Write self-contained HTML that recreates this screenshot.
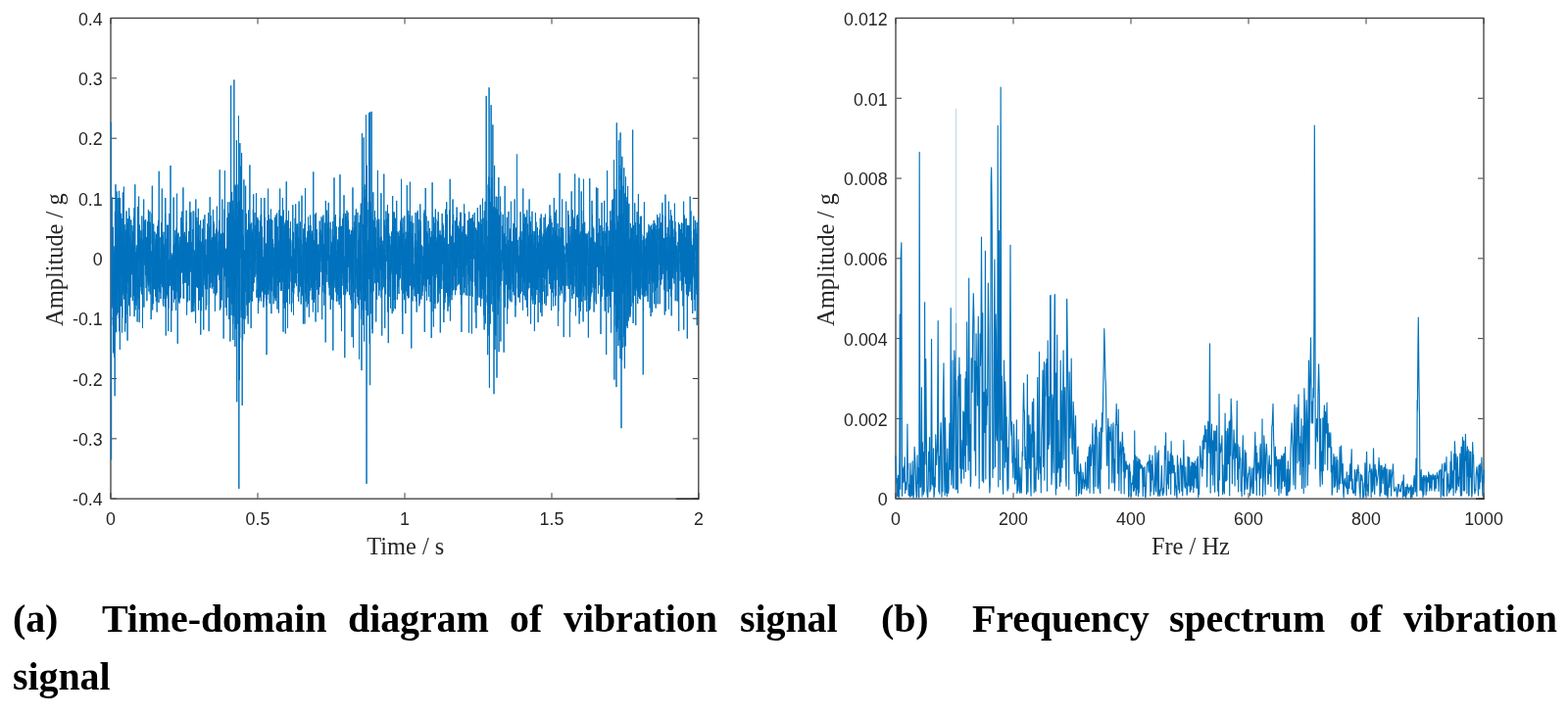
<!DOCTYPE html>
<html lang="en">
<head>
<meta charset="utf-8">
<title>Vibration signal</title>
<style>
html,body{margin:0;padding:0;background:#fff;}
body{width:1600px;height:732px;position:relative;overflow:hidden;font-family:"Liberation Serif",serif;}
svg{position:absolute;left:0;top:0;display:block;}
.tk{font-family:"Liberation Sans",sans-serif;font-size:19px;fill:#262626;}
.lb{font-family:"Liberation Serif",serif;font-size:24.4px;fill:#262626;}
.w{position:absolute;font-family:"Liberation Serif",serif;font-weight:bold;font-size:40px;line-height:40px;letter-spacing:-0.1px;color:#000;white-space:nowrap;}
</style>
</head>
<body>
<svg width="1600" height="732" viewBox="0 0 1600 732">
<rect x="113" y="18.5" width="599.8" height="490.7" fill="none" stroke="#3c3c3c" stroke-width="1.3"/>
<line x1="113" y1="508.55" x2="113" y2="503.2" stroke="#3c3c3c" stroke-width="1.0"/>
<line x1="113" y1="19.15" x2="113" y2="24.5" stroke="#3c3c3c" stroke-width="1.0"/>
<text transform="translate(113,536.2) scale(0.94,1)" text-anchor="middle" class="tk">0</text>
<line x1="263" y1="508.55" x2="263" y2="503.2" stroke="#3c3c3c" stroke-width="1.0"/>
<line x1="263" y1="19.15" x2="263" y2="24.5" stroke="#3c3c3c" stroke-width="1.0"/>
<text transform="translate(263,536.2) scale(0.94,1)" text-anchor="middle" class="tk">0.5</text>
<line x1="413" y1="508.55" x2="413" y2="503.2" stroke="#3c3c3c" stroke-width="1.0"/>
<line x1="413" y1="19.15" x2="413" y2="24.5" stroke="#3c3c3c" stroke-width="1.0"/>
<text transform="translate(413,536.2) scale(0.94,1)" text-anchor="middle" class="tk">1</text>
<line x1="563" y1="508.55" x2="563" y2="503.2" stroke="#3c3c3c" stroke-width="1.0"/>
<line x1="563" y1="19.15" x2="563" y2="24.5" stroke="#3c3c3c" stroke-width="1.0"/>
<text transform="translate(563,536.2) scale(0.94,1)" text-anchor="middle" class="tk">1.5</text>
<line x1="713" y1="508.55" x2="713" y2="503.2" stroke="#3c3c3c" stroke-width="1.0"/>
<line x1="713" y1="19.15" x2="713" y2="24.5" stroke="#3c3c3c" stroke-width="1.0"/>
<text transform="translate(713,536.2) scale(0.94,1)" text-anchor="middle" class="tk">2</text>
<line x1="113.65" y1="18.5" x2="119" y2="18.5" stroke="#3c3c3c" stroke-width="1.0"/>
<line x1="712.15" y1="18.5" x2="706.8" y2="18.5" stroke="#3c3c3c" stroke-width="1.0"/>
<text transform="translate(104.7,25.7) scale(0.94,1)" text-anchor="end" class="tk">0.4</text>
<line x1="113.65" y1="79.8375" x2="119" y2="79.8375" stroke="#3c3c3c" stroke-width="1.0"/>
<line x1="712.15" y1="79.8375" x2="706.8" y2="79.8375" stroke="#3c3c3c" stroke-width="1.0"/>
<text transform="translate(104.7,87.0) scale(0.94,1)" text-anchor="end" class="tk">0.3</text>
<line x1="113.65" y1="141.175" x2="119" y2="141.175" stroke="#3c3c3c" stroke-width="1.0"/>
<line x1="712.15" y1="141.175" x2="706.8" y2="141.175" stroke="#3c3c3c" stroke-width="1.0"/>
<text transform="translate(104.7,148.4) scale(0.94,1)" text-anchor="end" class="tk">0.2</text>
<line x1="113.65" y1="202.5125" x2="119" y2="202.5125" stroke="#3c3c3c" stroke-width="1.0"/>
<line x1="712.15" y1="202.5125" x2="706.8" y2="202.5125" stroke="#3c3c3c" stroke-width="1.0"/>
<text transform="translate(104.7,209.7) scale(0.94,1)" text-anchor="end" class="tk">0.1</text>
<line x1="113.65" y1="263.85" x2="119" y2="263.85" stroke="#3c3c3c" stroke-width="1.0"/>
<line x1="712.15" y1="263.85" x2="706.8" y2="263.85" stroke="#3c3c3c" stroke-width="1.0"/>
<text transform="translate(104.7,271.1) scale(0.94,1)" text-anchor="end" class="tk">0</text>
<line x1="113.65" y1="325.1875" x2="119" y2="325.1875" stroke="#3c3c3c" stroke-width="1.0"/>
<line x1="712.15" y1="325.1875" x2="706.8" y2="325.1875" stroke="#3c3c3c" stroke-width="1.0"/>
<text transform="translate(104.7,332.4) scale(0.94,1)" text-anchor="end" class="tk">-0.1</text>
<line x1="113.65" y1="386.525" x2="119" y2="386.525" stroke="#3c3c3c" stroke-width="1.0"/>
<line x1="712.15" y1="386.525" x2="706.8" y2="386.525" stroke="#3c3c3c" stroke-width="1.0"/>
<text transform="translate(104.7,393.7) scale(0.94,1)" text-anchor="end" class="tk">-0.2</text>
<line x1="113.65" y1="447.8625" x2="119" y2="447.8625" stroke="#3c3c3c" stroke-width="1.0"/>
<line x1="712.15" y1="447.8625" x2="706.8" y2="447.8625" stroke="#3c3c3c" stroke-width="1.0"/>
<text transform="translate(104.7,455.1) scale(0.94,1)" text-anchor="end" class="tk">-0.3</text>
<line x1="113.65" y1="509.2" x2="119" y2="509.2" stroke="#3c3c3c" stroke-width="1.0"/>
<line x1="712.15" y1="509.2" x2="706.8" y2="509.2" stroke="#3c3c3c" stroke-width="1.0"/>
<text transform="translate(104.7,516.4) scale(0.94,1)" text-anchor="end" class="tk">-0.4</text>
<line x1="689.8" y1="509.4" x2="713.4" y2="509.4" stroke="#1a1a1a" stroke-width="1.3"/>
<text x="413.8" y="565.8" text-anchor="middle" class="lb">Time / s</text>
<text transform="translate(64.2,265.15000000000003) rotate(-90)" text-anchor="middle" class="lb">Amplitude / g</text>
<rect x="914" y="18.5" width="600" height="490.7" fill="none" stroke="#3c3c3c" stroke-width="1.3"/>
<line x1="914" y1="508.55" x2="914" y2="503.2" stroke="#3c3c3c" stroke-width="1.0"/>
<line x1="914" y1="19.15" x2="914" y2="24.5" stroke="#3c3c3c" stroke-width="1.0"/>
<text transform="translate(914,536.2) scale(0.94,1)" text-anchor="middle" class="tk">0</text>
<line x1="1034" y1="508.55" x2="1034" y2="503.2" stroke="#3c3c3c" stroke-width="1.0"/>
<line x1="1034" y1="19.15" x2="1034" y2="24.5" stroke="#3c3c3c" stroke-width="1.0"/>
<text transform="translate(1034,536.2) scale(0.94,1)" text-anchor="middle" class="tk">200</text>
<line x1="1154" y1="508.55" x2="1154" y2="503.2" stroke="#3c3c3c" stroke-width="1.0"/>
<line x1="1154" y1="19.15" x2="1154" y2="24.5" stroke="#3c3c3c" stroke-width="1.0"/>
<text transform="translate(1154,536.2) scale(0.94,1)" text-anchor="middle" class="tk">400</text>
<line x1="1274" y1="508.55" x2="1274" y2="503.2" stroke="#3c3c3c" stroke-width="1.0"/>
<line x1="1274" y1="19.15" x2="1274" y2="24.5" stroke="#3c3c3c" stroke-width="1.0"/>
<text transform="translate(1274,536.2) scale(0.94,1)" text-anchor="middle" class="tk">600</text>
<line x1="1394" y1="508.55" x2="1394" y2="503.2" stroke="#3c3c3c" stroke-width="1.0"/>
<line x1="1394" y1="19.15" x2="1394" y2="24.5" stroke="#3c3c3c" stroke-width="1.0"/>
<text transform="translate(1394,536.2) scale(0.94,1)" text-anchor="middle" class="tk">800</text>
<line x1="1514" y1="508.55" x2="1514" y2="503.2" stroke="#3c3c3c" stroke-width="1.0"/>
<line x1="1514" y1="19.15" x2="1514" y2="24.5" stroke="#3c3c3c" stroke-width="1.0"/>
<text transform="translate(1514,536.2) scale(0.94,1)" text-anchor="middle" class="tk">1000</text>
<line x1="914.65" y1="18.5" x2="920" y2="18.5" stroke="#3c3c3c" stroke-width="1.0"/>
<line x1="1513.35" y1="18.5" x2="1508" y2="18.5" stroke="#3c3c3c" stroke-width="1.0"/>
<text transform="translate(905.7,25.7) scale(0.94,1)" text-anchor="end" class="tk">0.012</text>
<line x1="914.65" y1="100.28333333333333" x2="920" y2="100.28333333333333" stroke="#3c3c3c" stroke-width="1.0"/>
<line x1="1513.35" y1="100.28333333333333" x2="1508" y2="100.28333333333333" stroke="#3c3c3c" stroke-width="1.0"/>
<text transform="translate(905.7,107.5) scale(0.94,1)" text-anchor="end" class="tk">0.01</text>
<line x1="914.65" y1="182.06666666666666" x2="920" y2="182.06666666666666" stroke="#3c3c3c" stroke-width="1.0"/>
<line x1="1513.35" y1="182.06666666666666" x2="1508" y2="182.06666666666666" stroke="#3c3c3c" stroke-width="1.0"/>
<text transform="translate(905.7,189.3) scale(0.94,1)" text-anchor="end" class="tk">0.008</text>
<line x1="914.65" y1="263.85" x2="920" y2="263.85" stroke="#3c3c3c" stroke-width="1.0"/>
<line x1="1513.35" y1="263.85" x2="1508" y2="263.85" stroke="#3c3c3c" stroke-width="1.0"/>
<text transform="translate(905.7,271.1) scale(0.94,1)" text-anchor="end" class="tk">0.006</text>
<line x1="914.65" y1="345.6333333333333" x2="920" y2="345.6333333333333" stroke="#3c3c3c" stroke-width="1.0"/>
<line x1="1513.35" y1="345.6333333333333" x2="1508" y2="345.6333333333333" stroke="#3c3c3c" stroke-width="1.0"/>
<text transform="translate(905.7,352.8) scale(0.94,1)" text-anchor="end" class="tk">0.004</text>
<line x1="914.65" y1="427.41666666666663" x2="920" y2="427.41666666666663" stroke="#3c3c3c" stroke-width="1.0"/>
<line x1="1513.35" y1="427.41666666666663" x2="1508" y2="427.41666666666663" stroke="#3c3c3c" stroke-width="1.0"/>
<text transform="translate(905.7,434.6) scale(0.94,1)" text-anchor="end" class="tk">0.002</text>
<line x1="914.65" y1="509.2" x2="920" y2="509.2" stroke="#3c3c3c" stroke-width="1.0"/>
<line x1="1513.35" y1="509.2" x2="1508" y2="509.2" stroke="#3c3c3c" stroke-width="1.0"/>
<text transform="translate(905.7,516.4) scale(0.94,1)" text-anchor="end" class="tk">0</text>
<line x1="1506" y1="509.4" x2="1514.6" y2="509.4" stroke="#1a1a1a" stroke-width="1.3"/>
<text x="1214.9" y="565.8" text-anchor="middle" class="lb">Fre / Hz</text>
<text transform="translate(850.7,265.15000000000003) rotate(-90)" text-anchor="middle" class="lb">Amplitude / g</text>
<polyline points="113.50,124.6 113.62,469.3 113.73,233.2 113.85,309.5 113.96,287.1 114.08,314.6 114.19,261.1 114.31,201.5 114.42,289.0 114.54,295.5 114.65,241.1 114.77,247.3 114.88,259.0 115.00,311.3 115.11,265.3 115.23,231.7 115.34,332.2 115.46,287.1 115.57,360.3 115.69,329.2 115.80,357.1 115.92,275.7 116.04,327.9 116.15,251.4 116.27,256.7 116.38,273.3 116.50,364.7 116.61,290.9 116.73,266.3 116.84,258.7 116.96,340.3 117.07,287.7 117.19,404.3 117.30,304.1 117.42,215.9 117.53,303.9 117.65,265.5 117.76,224.1 117.88,292.7 117.99,188.3 118.11,258.9 118.22,261.0 118.34,323.9 118.46,260.5 118.57,203.6 118.69,339.2 118.80,225.9 118.92,258.6 119.03,294.9 119.15,195.5 119.26,230.5 119.38,321.5 119.49,260.6 119.61,238.8 119.72,272.9 119.84,234.3 119.95,267.0 120.07,235.1 120.18,202.0 120.30,295.7 120.41,255.2 120.53,285.6 120.64,258.4 120.76,319.3 120.87,290.8 120.99,273.0 121.11,226.0 121.22,215.8 121.34,324.8 121.45,194.9 121.57,236.9 121.68,338.2 121.80,284.9 121.91,268.3 122.03,212.1 122.14,235.5 122.26,278.6 122.37,356.8 122.49,275.0 122.60,202.1 122.72,282.9 122.83,277.3 122.95,249.7 123.06,269.2 123.18,272.5 123.29,312.6 123.41,264.4 123.53,283.2 123.64,217.9 123.76,238.2 123.87,264.9 123.99,237.7 124.10,278.4 124.22,223.0 124.33,264.1 124.45,339.6 124.56,318.4 124.68,250.6 124.79,324.5 124.91,324.5 125.02,276.5 125.14,301.2 125.25,257.7 125.37,196.5 125.48,298.1 125.60,289.4 125.71,256.2 125.83,245.6 125.95,271.0 126.06,272.2 126.18,238.1 126.29,244.9 126.41,190.6 126.52,267.0 126.64,262.6 126.75,305.6 126.87,254.5 126.98,297.6 127.10,229.2 127.21,257.0 127.33,260.7 127.44,286.8 127.56,268.4 127.67,338.6 127.79,307.2 127.90,251.2 128.02,329.0 128.13,234.6 128.25,329.9 128.37,237.9 128.48,295.6 128.60,237.3 128.71,259.4 128.83,321.0 128.94,221.8 129.06,215.5 129.17,266.3 129.29,273.9 129.40,269.7 129.52,299.3 129.63,227.6 129.75,283.5 129.86,265.7 129.98,292.3 130.09,347.7 130.21,309.4 130.32,223.2 130.44,269.3 130.55,232.8 130.67,263.4 130.79,288.2 130.90,275.3 131.02,283.4 131.13,263.6 131.25,276.8 131.36,274.2 131.48,311.3 131.59,291.5 131.71,212.4 131.82,286.7 131.94,299.7 132.05,253.5 132.17,220.7 132.28,312.8 132.40,270.8 132.51,285.0 132.63,322.6 132.74,241.6 132.86,264.6 132.97,261.7 133.09,288.6 133.20,250.3 133.32,281.5 133.44,268.5 133.55,300.0 133.67,303.4 133.78,224.5 133.90,280.2 134.01,255.3 134.13,264.9 134.24,278.0 134.36,280.1 134.47,245.6 134.59,273.4 134.70,268.7 134.82,263.2 134.93,230.1 135.05,244.4 135.16,252.9 135.28,281.5 135.39,307.0 135.51,236.9 135.62,236.5 135.74,268.2 135.86,248.6 135.97,241.9 136.09,240.6 136.20,238.1 136.32,277.8 136.43,221.7 136.55,301.9 136.66,240.0 136.78,250.2 136.89,239.8 137.01,212.1 137.12,323.1 137.24,298.4 137.35,311.2 137.47,241.6 137.58,294.3 137.70,264.2 137.81,188.3 137.93,311.2 138.04,316.4 138.16,256.9 138.28,262.7 138.39,271.1 138.51,262.8 138.62,289.2 138.74,308.4 138.85,268.7 138.97,292.3 139.08,312.0 139.20,250.4 139.31,265.6 139.43,253.1 139.54,292.6 139.66,283.0 139.77,292.8 139.89,289.5 140.00,258.7 140.12,328.5 140.23,254.5 140.35,255.0 140.46,210.9 140.58,303.8 140.70,240.7 140.81,266.4 140.93,264.3 141.04,305.3 141.16,277.0 141.27,244.6 141.39,266.2 141.50,261.8 141.62,200.6 141.73,234.1 141.85,264.5 141.96,316.0 142.08,283.4 142.19,329.1 142.31,315.4 142.42,278.8 142.54,229.7 142.65,262.6 142.77,296.8 142.88,290.3 143.00,235.0 143.12,259.8 143.23,262.6 143.35,265.3 143.46,262.9 143.58,243.4 143.69,249.8 143.81,258.4 143.92,292.9 144.04,250.9 144.15,282.9 144.27,236.2 144.38,299.2 144.50,267.7 144.61,264.1 144.73,300.6 144.84,220.5 144.96,227.1 145.07,276.7 145.19,244.5 145.30,254.3 145.42,317.2 145.53,335.1 145.65,265.5 145.77,261.8 145.88,293.5 146.00,271.3 146.11,268.8 146.23,234.1 146.34,255.5 146.46,264.0 146.57,225.7 146.69,203.5 146.80,274.5 146.92,313.7 147.03,224.7 147.15,239.8 147.26,241.0 147.38,247.2 147.49,261.1 147.61,258.5 147.72,270.7 147.84,269.4 147.95,262.5 148.07,226.3 148.19,250.0 148.30,265.4 148.42,279.7 148.53,281.2 148.65,224.1 148.76,251.3 148.88,262.2 148.99,273.3 149.11,294.1 149.22,265.7 149.34,242.2 149.45,274.5 149.57,270.0 149.68,269.9 149.80,261.1 149.91,307.2 150.03,270.3 150.14,287.1 150.26,242.0 150.37,284.8 150.49,249.6 150.61,226.2 150.72,272.4 150.84,280.2 150.95,259.1 151.07,263.9 151.18,290.8 151.30,252.5 151.41,214.1 151.53,270.9 151.64,269.4 151.76,292.2 151.87,256.0 151.99,297.7 152.10,293.9 152.22,232.3 152.33,288.4 152.45,237.2 152.56,226.3 152.68,257.5 152.79,250.2 152.91,215.8 153.03,269.2 153.14,279.9 153.26,300.5 153.37,262.8 153.49,227.4 153.60,240.2 153.72,289.3 153.83,287.0 153.95,277.5 154.06,256.7 154.18,326.1 154.29,258.6 154.41,256.6 154.52,271.9 154.64,264.9 154.75,258.8 154.87,266.1 154.98,251.5 155.10,217.9 155.21,249.3 155.33,189.7 155.45,309.4 155.56,254.3 155.68,316.5 155.79,301.9 155.91,242.8 156.02,246.5 156.14,267.9 156.25,310.1 156.37,273.9 156.48,282.2 156.60,248.2 156.71,228.5 156.83,258.5 156.94,284.9 157.06,295.5 157.17,265.4 157.29,268.6 157.40,295.0 157.52,261.0 157.63,294.9 157.75,236.5 157.86,237.8 157.98,237.2 158.10,276.7 158.21,251.2 158.33,267.4 158.44,274.4 158.56,273.0 158.67,298.9 158.79,302.8 158.90,244.3 159.02,269.0 159.13,258.5 159.25,239.3 159.36,307.6 159.48,285.0 159.59,259.5 159.71,254.2 159.82,274.0 159.94,238.6 160.05,258.7 160.17,318.6 160.28,289.0 160.40,244.1 160.52,252.5 160.63,307.6 160.75,230.8 160.86,249.2 160.98,230.9 161.09,274.2 161.21,271.8 161.32,294.3 161.44,228.0 161.55,268.6 161.67,224.9 161.78,281.3 161.90,259.8 162.01,309.0 162.13,274.2 162.24,174.8 162.36,297.6 162.47,237.5 162.59,255.6 162.70,292.0 162.82,277.4 162.94,276.2 163.05,265.2 163.17,278.3 163.28,286.2 163.40,272.1 163.51,291.6 163.63,298.7 163.74,265.2 163.86,242.2 163.97,305.1 164.09,263.8 164.20,281.4 164.32,290.2 164.43,242.9 164.55,277.8 164.66,227.1 164.78,284.9 164.89,254.4 165.01,270.0 165.12,284.2 165.24,249.4 165.36,192.6 165.47,249.0 165.59,265.1 165.70,293.2 165.82,266.6 165.93,262.6 166.05,240.3 166.16,288.3 166.28,264.9 166.39,310.3 166.51,247.9 166.62,293.0 166.74,312.6 166.85,265.4 166.97,236.7 167.08,305.0 167.20,293.2 167.31,283.9 167.43,294.3 167.54,254.5 167.66,285.6 167.78,283.3 167.89,249.5 168.01,284.2 168.12,253.2 168.24,290.1 168.35,296.6 168.47,313.4 168.58,218.2 168.70,272.5 168.81,202.0 168.93,264.7 169.04,259.9 169.16,262.6 169.27,342.6 169.39,291.9 169.50,305.9 169.62,291.2 169.73,299.9 169.85,245.5 169.96,243.7 170.08,289.8 170.19,301.4 170.31,273.4 170.43,229.7 170.54,300.4 170.66,250.9 170.77,292.9 170.89,238.3 171.00,292.9 171.12,271.6 171.23,304.5 171.35,290.2 171.46,229.8 171.58,243.7 171.69,338.1 171.81,287.3 171.92,315.0 172.04,274.5 172.15,264.7 172.27,266.1 172.38,266.4 172.50,294.1 172.61,265.6 172.73,264.9 172.85,232.2 172.96,218.0 173.08,267.5 173.19,284.5 173.31,265.6 173.42,280.2 173.54,283.9 173.65,265.4 173.77,292.0 173.88,249.0 174.00,169.0 174.11,257.7 174.23,268.8 174.34,283.5 174.46,289.4 174.57,270.3 174.69,339.0 174.80,258.1 174.92,264.0 175.03,300.6 175.15,262.2 175.27,300.1 175.38,280.5 175.50,271.8 175.61,317.2 175.73,261.6 175.84,260.1 175.96,268.1 176.07,275.3 176.19,273.9 176.30,290.2 176.42,271.1 176.53,278.8 176.65,261.6 176.76,296.3 176.88,258.1 176.99,260.3 177.11,201.5 177.22,275.7 177.34,250.3 177.45,308.8 177.57,252.6 177.69,257.9 177.80,256.9 177.92,254.4 178.03,281.5 178.15,270.9 178.26,248.2 178.38,253.3 178.49,258.8 178.61,304.7 178.72,250.7 178.84,235.2 178.95,239.1 179.07,258.1 179.18,305.9 179.30,240.7 179.41,267.8 179.53,316.8 179.64,254.6 179.76,304.1 179.87,298.8 179.99,281.0 180.11,232.6 180.22,273.9 180.34,257.2 180.45,221.0 180.57,197.7 180.68,266.6 180.80,270.4 180.91,297.9 181.03,282.6 181.14,253.4 181.26,350.8 181.37,261.1 181.49,239.4 181.60,284.7 181.72,265.4 181.83,245.9 181.95,249.5 182.06,237.6 182.18,254.1 182.29,272.2 182.41,255.0 182.52,290.9 182.64,308.1 182.76,249.6 182.87,265.3 182.99,256.3 183.10,309.7 183.22,273.7 183.33,280.0 183.45,287.2 183.56,305.2 183.68,272.9 183.79,241.8 183.91,254.5 184.02,280.1 184.14,264.3 184.25,245.3 184.37,304.2 184.48,267.2 184.60,250.5 184.71,247.1 184.83,222.1 184.94,236.0 185.06,256.2 185.18,256.4 185.29,244.5 185.41,278.4 185.52,264.9 185.64,241.6 185.75,215.8 185.87,268.1 185.98,265.2 186.10,259.0 186.21,230.9 186.33,264.7 186.44,227.8 186.56,289.9 186.67,268.9 186.79,269.2 186.90,191.4 187.02,238.2 187.13,304.6 187.25,288.5 187.36,255.6 187.48,281.6 187.60,304.9 187.71,238.4 187.83,251.7 187.94,251.7 188.06,276.7 188.17,238.6 188.29,270.3 188.40,236.9 188.52,288.5 188.63,286.9 188.75,258.8 188.86,282.8 188.98,247.3 189.09,257.5 189.21,288.8 189.32,262.1 189.44,273.3 189.55,241.4 189.67,280.9 189.78,275.7 189.90,234.1 190.02,233.2 190.13,214.8 190.25,262.3 190.36,258.5 190.48,226.2 190.59,321.6 190.71,290.2 190.82,261.0 190.94,252.8 191.05,286.2 191.17,308.3 191.28,302.6 191.40,247.5 191.51,284.3 191.63,267.7 191.74,258.6 191.86,248.7 191.97,272.9 192.09,251.6 192.20,287.9 192.32,273.6 192.44,291.5 192.55,236.1 192.67,264.6 192.78,283.8 192.90,273.4 193.01,269.8 193.13,246.7 193.24,306.9 193.36,291.8 193.47,274.1 193.59,217.4 193.70,240.4 193.82,205.8 193.93,246.4 194.05,221.0 194.16,270.2 194.28,273.7 194.39,234.1 194.51,251.7 194.62,247.4 194.74,277.6 194.85,216.6 194.97,221.9 195.09,250.0 195.20,247.1 195.32,318.6 195.43,248.2 195.55,269.1 195.66,253.2 195.78,247.1 195.89,273.1 196.01,309.5 196.12,254.8 196.24,283.9 196.35,272.8 196.47,280.2 196.58,273.1 196.70,318.3 196.81,234.0 196.93,257.6 197.04,236.6 197.16,215.3 197.27,263.3 197.39,312.5 197.51,288.0 197.62,296.4 197.74,277.4 197.85,261.9 197.97,317.9 198.08,255.4 198.20,304.6 198.31,256.6 198.43,266.8 198.54,272.3 198.66,265.8 198.77,278.4 198.89,280.4 199.00,309.3 199.12,264.6 199.23,218.6 199.35,215.5 199.46,231.4 199.58,329.7 199.69,282.1 199.81,203.5 199.93,265.4 200.04,265.7 200.16,271.7 200.27,261.6 200.39,275.6 200.50,266.1 200.62,293.1 200.73,273.9 200.85,221.9 200.96,265.7 201.08,270.3 201.19,250.8 201.31,246.5 201.42,293.9 201.54,269.4 201.65,241.3 201.77,257.2 201.88,260.9 202.00,225.7 202.11,282.1 202.23,261.8 202.35,212.9 202.46,227.3 202.58,316.5 202.69,281.9 202.81,278.1 202.92,247.6 203.04,249.0 203.15,229.6 203.27,306.3 203.38,245.4 203.50,271.8 203.61,281.8 203.73,250.6 203.84,288.7 203.96,307.0 204.07,273.8 204.19,304.3 204.30,281.4 204.42,254.7 204.53,256.2 204.65,224.9 204.77,341.7 204.88,305.2 205.00,284.3 205.11,288.7 205.23,296.7 205.34,253.2 205.46,281.3 205.57,317.2 205.69,246.8 205.80,266.9 205.92,255.1 206.03,261.3 206.15,248.4 206.26,262.9 206.38,233.5 206.49,253.4 206.61,254.2 206.72,253.8 206.84,303.2 206.95,268.3 207.07,270.8 207.18,258.8 207.30,300.5 207.42,223.8 207.53,261.3 207.65,296.5 207.76,336.6 207.88,271.4 207.99,266.3 208.11,283.2 208.22,261.6 208.34,281.2 208.45,250.3 208.57,283.4 208.68,264.9 208.80,239.8 208.91,219.3 209.03,291.0 209.14,276.4 209.26,286.5 209.37,244.6 209.49,294.8 209.60,276.9 209.72,264.6 209.84,290.3 209.95,289.7 210.07,276.7 210.18,316.4 210.30,302.9 210.41,275.0 210.53,260.2 210.64,268.9 210.76,311.7 210.87,276.4 210.99,244.3 211.10,250.2 211.22,266.0 211.33,287.8 211.45,248.4 211.56,279.5 211.68,295.4 211.79,285.5 211.91,228.3 212.02,258.4 212.14,235.4 212.26,276.8 212.37,240.8 212.49,280.1 212.60,268.1 212.72,217.1 212.83,245.0 212.95,277.4 213.06,266.1 213.18,338.1 213.29,234.2 213.41,277.1 213.52,310.8 213.64,271.4 213.75,263.5 213.87,261.2 213.98,231.5 214.10,256.1 214.21,201.2 214.33,293.6 214.44,242.6 214.56,228.4 214.68,244.9 214.79,257.6 214.91,260.1 215.02,220.0 215.14,288.9 215.25,266.8 215.37,252.6 215.48,245.6 215.60,275.7 215.71,256.3 215.83,271.4 215.94,260.9 216.06,267.4 216.17,294.7 216.29,264.4 216.40,242.3 216.52,289.9 216.63,270.4 216.75,247.5 216.86,292.7 216.98,259.4 217.10,292.5 217.21,236.0 217.33,224.7 217.44,214.2 217.56,269.8 217.67,245.7 217.79,260.9 217.90,261.3 218.02,225.9 218.13,299.5 218.25,238.0 218.36,265.2 218.48,229.3 218.59,259.3 218.71,282.0 218.82,257.1 218.94,245.8 219.05,263.0 219.17,251.9 219.28,277.9 219.40,317.8 219.52,241.8 219.63,246.7 219.75,260.2 219.86,262.2 219.98,238.4 220.09,276.2 220.21,282.9 220.32,268.9 220.44,234.7 220.55,301.3 220.67,234.6 220.78,281.1 220.90,293.6 221.01,232.9 221.13,266.5 221.24,298.9 221.36,210.6 221.47,241.0 221.59,234.6 221.70,275.4 221.82,253.9 221.93,246.3 222.05,281.2 222.17,255.1 222.28,264.7 222.40,278.3 222.51,277.1 222.63,262.2 222.74,263.1 222.86,279.1 222.97,275.3 223.09,236.5 223.20,258.6 223.32,242.1 223.43,234.4 223.55,249.4 223.66,224.7 223.78,286.1 223.89,244.0 224.01,272.4 224.12,218.3 224.24,173.3 224.35,316.6 224.47,290.0 224.59,247.5 224.70,244.5 224.82,245.8 224.93,265.8 225.05,252.7 225.16,247.8 225.28,266.0 225.39,238.6 225.51,314.3 225.62,248.3 225.74,291.8 225.85,240.3 225.97,270.0 226.08,287.9 226.20,254.7 226.31,288.5 226.43,288.5 226.54,306.3 226.66,264.6 226.77,203.5 226.89,238.7 227.01,267.7 227.12,238.0 227.24,263.4 227.35,266.4 227.47,249.7 227.58,237.7 227.70,273.1 227.81,270.5 227.93,268.2 228.04,261.8 228.16,345.6 228.27,238.4 228.39,274.8 228.50,252.4 228.62,286.4 228.73,254.9 228.85,254.1 228.96,275.4 229.08,213.5 229.19,254.6 229.31,219.5 229.43,174.2 229.54,282.1 229.66,274.4 229.77,252.9 229.89,262.3 230.00,262.6 230.12,271.8 230.23,314.1 230.35,270.1 230.46,308.8 230.58,254.4 230.69,284.2 230.81,283.9 230.92,270.0 231.04,256.9 231.15,304.4 231.27,313.5 231.38,294.2 231.50,322.2 231.61,291.6 231.73,222.3 231.85,294.3 231.96,246.7 232.08,303.8 232.19,255.9 232.31,273.2 232.42,265.6 232.54,248.5 232.65,217.8 232.77,206.3 232.88,260.4 233.00,293.3 233.11,247.7 233.23,271.4 233.34,240.6 233.46,265.2 233.57,217.8 233.69,326.1 233.80,273.2 233.92,238.3 234.03,275.1 234.15,289.5 234.26,272.5 234.38,309.2 234.50,260.3 234.61,206.3 234.73,228.8 234.84,348.6 234.96,293.8 235.07,277.9 235.19,232.0 235.30,292.8 235.42,288.4 235.53,234.9 235.65,87.3 235.76,277.6 235.88,305.3 235.99,321.9 236.11,290.3 236.22,309.3 236.34,237.5 236.45,288.5 236.57,246.6 236.68,196.0 236.80,220.8 236.92,310.9 237.03,231.2 237.15,219.9 237.26,295.4 237.38,304.6 237.49,268.6 237.61,330.5 237.72,204.8 237.84,347.1 237.95,313.8 238.07,276.2 238.18,274.3 238.30,256.8 238.41,252.2 238.53,274.0 238.64,214.0 238.76,322.7 238.87,81.5 238.99,299.4 239.10,257.8 239.22,253.7 239.34,310.6 239.45,297.0 239.57,226.2 239.68,247.1 239.80,300.1 239.91,353.8 240.03,188.6 240.14,335.8 240.26,248.7 240.37,189.9 240.49,224.0 240.60,252.5 240.72,275.7 240.83,294.8 240.95,276.1 241.06,295.8 241.18,224.3 241.29,287.2 241.41,143.2 241.52,335.2 241.64,266.8 241.76,410.3 241.87,274.7 241.99,206.6 242.10,243.7 242.22,235.9 242.33,244.1 242.45,260.6 242.56,271.7 242.68,282.8 242.79,221.2 242.91,330.9 243.02,188.4 243.14,261.9 243.25,310.3 243.37,294.2 243.48,118.2 243.60,254.8 243.71,308.4 243.83,499.0 243.94,312.2 244.06,388.2 244.18,308.9 244.29,387.5 244.41,266.3 244.52,204.9 244.64,227.9 244.75,345.2 244.87,146.1 244.98,169.6 245.10,246.5 245.21,263.6 245.33,206.7 245.44,169.6 245.56,194.5 245.67,256.4 245.79,245.1 245.90,231.4 246.02,299.0 246.13,324.2 246.25,261.2 246.36,317.1 246.48,267.3 246.59,156.1 246.71,201.5 246.83,310.2 246.94,270.4 247.06,272.6 247.17,413.9 247.29,213.9 247.40,289.4 247.52,306.2 247.63,347.6 247.75,310.6 247.86,239.5 247.98,261.8 248.09,313.6 248.21,281.9 248.32,262.5 248.44,242.1 248.55,291.7 248.67,275.5 248.78,325.7 248.90,183.4 249.01,199.5 249.13,325.7 249.25,341.1 249.36,255.2 249.48,279.9 249.59,298.2 249.71,266.4 249.82,264.1 249.94,267.2 250.05,325.7 250.17,269.8 250.28,297.8 250.40,285.4 250.51,255.8 250.63,189.7 250.74,232.8 250.86,282.5 250.97,232.5 251.09,224.5 251.20,226.1 251.32,218.2 251.43,269.1 251.55,270.0 251.67,237.5 251.78,311.4 251.90,257.3 252.01,282.0 252.13,276.3 252.24,322.3 252.36,293.5 252.47,264.5 252.59,237.4 252.70,234.6 252.82,266.4 252.93,269.9 253.05,290.2 253.16,330.6 253.28,271.6 253.39,246.7 253.51,214.6 253.62,264.8 253.74,309.5 253.85,290.0 253.97,307.8 254.09,299.8 254.20,228.4 254.32,257.7 254.43,308.8 254.55,246.4 254.66,230.3 254.78,274.3 254.89,168.5 255.01,273.6 255.12,256.4 255.24,247.1 255.35,233.1 255.47,232.4 255.58,233.2 255.70,228.8 255.81,246.9 255.93,307.0 256.04,267.5 256.16,335.1 256.27,274.6 256.39,240.7 256.51,273.9 256.62,289.6 256.74,227.4 256.85,247.1 256.97,258.3 257.08,240.6 257.20,237.2 257.31,255.3 257.43,307.7 257.54,282.4 257.66,276.4 257.77,290.8 257.89,258.9 258.00,234.2 258.12,277.1 258.23,294.8 258.35,213.6 258.46,276.2 258.58,297.4 258.69,198.3 258.81,253.3 258.92,283.0 259.04,244.3 259.16,277.1 259.27,288.9 259.39,259.4 259.50,244.8 259.62,281.0 259.73,255.7 259.85,266.4 259.96,217.0 260.08,283.0 260.19,229.8 260.31,265.3 260.42,267.3 260.54,246.1 260.65,241.9 260.77,232.7 260.88,255.8 261.00,280.1 261.11,278.4 261.23,251.3 261.34,249.6 261.46,197.2 261.58,253.6 261.69,237.8 261.81,226.6 261.92,259.8 262.04,304.0 262.15,295.7 262.27,302.7 262.38,224.8 262.50,286.7 262.61,233.6 262.73,249.5 262.84,221.8 262.96,239.2 263.07,266.6 263.19,269.3 263.30,261.8 263.42,320.1 263.53,278.2 263.65,264.7 263.76,224.4 263.88,308.8 264.00,257.5 264.11,288.3 264.23,259.3 264.34,243.2 264.46,265.4 264.57,244.9 264.69,306.8 264.80,236.7 264.92,280.1 265.03,248.6 265.15,259.4 265.26,303.4 265.38,284.3 265.49,258.4 265.61,225.7 265.72,256.8 265.84,257.5 265.95,302.0 266.07,228.7 266.18,219.5 266.30,263.1 266.42,202.0 266.53,307.5 266.65,242.2 266.76,218.7 266.88,246.3 266.99,232.8 267.11,250.5 267.22,290.4 267.34,231.1 267.45,297.2 267.57,269.5 267.68,257.0 267.80,242.2 267.91,253.6 268.03,254.4 268.14,284.4 268.26,298.6 268.37,262.3 268.49,283.0 268.60,299.1 268.72,298.0 268.84,277.1 268.95,313.8 269.07,300.2 269.18,308.0 269.30,259.4 269.41,253.8 269.53,214.6 269.64,304.3 269.76,282.2 269.87,202.0 269.99,269.7 270.10,272.7 270.22,221.9 270.33,273.0 270.45,295.1 270.56,299.4 270.68,255.6 270.79,256.4 270.91,300.9 271.02,290.4 271.14,250.7 271.25,249.7 271.37,281.2 271.49,248.6 271.60,249.8 271.72,312.0 271.83,272.3 271.95,253.7 272.06,362.2 272.18,294.3 272.29,271.5 272.41,245.4 272.52,225.1 272.64,305.9 272.75,228.7 272.87,294.3 272.98,240.4 273.10,233.6 273.21,239.7 273.33,260.2 273.44,295.2 273.56,192.6 273.67,283.2 273.79,300.5 273.91,229.4 274.02,246.5 274.14,219.2 274.25,288.5 274.37,227.8 274.48,224.8 274.60,225.7 274.71,264.4 274.83,296.3 274.94,268.6 275.06,304.7 275.17,309.8 275.29,261.6 275.40,290.6 275.52,268.3 275.63,266.8 275.75,223.6 275.86,232.0 275.98,265.1 276.09,234.2 276.21,284.9 276.33,272.9 276.44,213.5 276.56,297.4 276.67,271.4 276.79,299.5 276.90,320.1 277.02,223.8 277.13,284.1 277.25,258.3 277.36,288.1 277.48,294.9 277.59,297.2 277.71,228.2 277.82,225.0 277.94,252.0 278.05,283.2 278.17,246.6 278.28,272.9 278.40,244.2 278.51,256.7 278.63,257.0 278.75,249.0 278.86,279.5 278.98,274.8 279.09,310.3 279.21,275.8 279.32,302.2 279.44,267.8 279.55,289.7 279.67,261.4 279.78,252.7 279.90,302.2 280.01,285.8 280.13,289.3 280.24,245.5 280.36,222.0 280.47,243.0 280.59,273.3 280.70,227.9 280.82,304.7 280.93,227.1 281.05,281.6 281.17,307.3 281.28,219.6 281.40,225.1 281.51,291.7 281.63,259.7 281.74,269.6 281.86,261.3 281.97,303.9 282.09,282.2 282.20,252.4 282.32,258.4 282.43,234.4 282.55,261.9 282.66,217.5 282.78,283.2 282.89,257.5 283.01,315.6 283.12,297.7 283.24,231.3 283.35,289.3 283.47,250.8 283.58,265.5 283.70,292.0 283.82,273.2 283.93,277.7 284.05,277.0 284.16,245.4 284.28,247.8 284.39,319.5 284.51,288.3 284.62,256.9 284.74,266.5 284.85,238.6 284.97,214.4 285.08,243.2 285.20,264.8 285.31,268.5 285.43,287.0 285.54,288.3 285.66,192.6 285.77,274.5 285.89,275.4 286.00,245.6 286.12,274.6 286.24,269.2 286.35,296.7 286.47,223.5 286.58,251.4 286.70,220.0 286.81,244.3 286.93,227.3 287.04,270.6 287.16,246.3 287.27,221.1 287.39,296.9 287.50,235.0 287.62,222.2 287.73,253.5 287.85,245.1 287.96,232.5 288.08,281.9 288.19,253.6 288.31,287.8 288.42,202.0 288.54,280.9 288.66,267.8 288.77,260.2 288.89,252.5 289.00,338.7 289.12,214.4 289.23,234.8 289.35,245.6 289.46,273.7 289.58,266.3 289.69,250.1 289.81,253.5 289.92,310.3 290.04,245.2 290.15,230.4 290.27,314.9 290.38,238.8 290.50,254.6 290.61,266.9 290.73,229.3 290.84,296.6 290.96,259.8 291.08,227.0 291.19,269.3 291.31,340.5 291.42,261.0 291.54,276.2 291.65,224.9 291.77,289.0 291.88,241.8 292.00,298.6 292.11,247.0 292.23,185.4 292.34,308.7 292.46,264.0 292.57,293.5 292.69,276.2 292.80,225.0 292.92,294.8 293.03,293.3 293.15,227.5 293.26,260.9 293.38,225.0 293.50,335.1 293.61,288.3 293.73,265.7 293.84,232.8 293.96,240.1 294.07,263.8 294.19,262.6 294.30,267.0 294.42,279.9 294.53,215.1 294.65,263.7 294.76,295.2 294.88,277.1 294.99,245.5 295.11,247.7 295.22,267.7 295.34,282.4 295.45,263.2 295.57,310.3 295.68,300.0 295.80,243.7 295.91,277.1 296.03,254.4 296.15,233.1 296.26,247.5 296.38,263.3 296.49,226.3 296.61,247.0 296.72,273.7 296.84,245.4 296.95,253.6 297.07,287.6 297.18,262.0 297.30,268.4 297.41,318.4 297.53,268.6 297.64,271.7 297.76,276.0 297.87,309.5 297.99,273.7 298.10,265.0 298.22,261.3 298.33,295.4 298.45,247.9 298.57,297.6 298.68,270.1 298.80,209.2 298.91,283.1 299.03,278.0 299.14,236.8 299.26,274.5 299.37,272.1 299.49,321.6 299.60,237.4 299.72,300.1 299.83,286.8 299.95,291.8 300.06,293.9 300.18,287.5 300.29,287.1 300.41,256.3 300.52,288.5 300.64,260.8 300.75,253.8 300.87,284.0 300.99,260.6 301.10,222.7 301.22,255.8 301.33,281.5 301.45,265.6 301.56,289.2 301.68,208.4 301.79,242.2 301.91,286.5 302.02,269.6 302.14,235.9 302.25,277.6 302.37,259.1 302.48,292.1 302.60,286.4 302.71,278.0 302.83,228.7 302.94,274.9 303.06,278.2 303.17,279.0 303.29,268.3 303.41,247.8 303.52,259.2 303.64,231.0 303.75,258.6 303.87,228.3 303.98,257.1 304.10,249.0 304.21,302.8 304.33,267.3 304.44,265.7 304.56,270.4 304.67,307.7 304.79,242.2 304.90,274.3 305.02,275.7 305.13,205.5 305.25,270.0 305.36,253.9 305.48,298.2 305.59,289.0 305.71,256.7 305.83,260.3 305.94,274.0 306.06,279.3 306.17,286.4 306.29,265.4 306.40,234.9 306.52,292.4 306.63,226.5 306.75,243.1 306.86,276.1 306.98,244.6 307.09,303.4 307.21,310.6 307.32,298.7 307.44,274.9 307.55,272.6 307.67,277.8 307.78,261.4 307.90,295.9 308.01,199.7 308.13,302.2 308.24,281.7 308.36,275.0 308.48,295.1 308.59,300.9 308.71,291.0 308.82,264.2 308.94,249.4 309.05,250.0 309.17,290.7 309.28,285.2 309.40,330.6 309.51,252.8 309.63,317.3 309.74,233.5 309.86,276.9 309.97,285.0 310.09,255.5 310.20,238.5 310.32,255.4 310.43,238.0 310.55,260.6 310.66,233.7 310.78,233.3 310.90,330.6 311.01,228.5 311.13,259.8 311.24,261.7 311.36,288.7 311.47,192.0 311.59,244.8 311.70,299.3 311.82,247.9 311.93,255.3 312.05,257.0 312.16,307.8 312.28,266.6 312.39,247.9 312.51,284.4 312.62,261.6 312.74,304.5 312.85,247.4 312.97,281.7 313.08,242.5 313.20,313.6 313.32,246.9 313.43,270.2 313.55,244.0 313.66,288.8 313.78,280.5 313.89,236.1 314.01,286.2 314.12,282.9 314.24,271.3 314.35,291.4 314.47,234.6 314.58,221.5 314.70,282.9 314.81,310.4 314.93,235.1 315.04,236.7 315.16,243.7 315.27,235.5 315.39,323.7 315.50,268.4 315.62,301.2 315.74,302.1 315.85,239.8 315.97,282.0 316.08,230.0 316.20,262.0 316.31,281.1 316.43,244.3 316.54,219.7 316.66,251.9 316.77,296.7 316.89,254.7 317.00,230.1 317.12,277.2 317.23,284.7 317.35,238.9 317.46,260.4 317.58,293.6 317.69,274.1 317.81,284.2 317.92,256.6 318.04,261.2 318.16,235.6 318.27,246.4 318.39,306.0 318.50,253.9 318.62,241.8 318.73,252.7 318.85,238.6 318.96,278.7 319.08,289.5 319.19,241.0 319.31,292.6 319.42,318.5 319.54,238.7 319.65,283.4 319.77,175.4 319.88,301.6 320.00,299.6 320.11,295.1 320.23,273.6 320.34,254.8 320.46,308.7 320.57,245.4 320.69,295.8 320.81,292.6 320.92,247.2 321.04,265.9 321.15,305.3 321.27,218.6 321.38,287.1 321.50,257.8 321.61,258.9 321.73,229.2 321.84,276.1 321.96,239.1 322.07,328.5 322.19,236.3 322.30,284.4 322.42,273.6 322.53,217.3 322.65,256.1 322.76,261.2 322.88,234.8 322.99,255.0 323.11,285.9 323.23,245.8 323.34,295.7 323.46,236.2 323.57,234.3 323.69,279.3 323.80,280.8 323.92,259.5 324.03,263.5 324.15,290.2 324.26,249.9 324.38,319.0 324.49,275.5 324.61,274.8 324.72,271.2 324.84,256.3 324.95,297.0 325.07,249.4 325.18,268.7 325.30,281.4 325.41,300.7 325.53,295.8 325.65,255.0 325.76,289.9 325.88,262.3 325.99,237.8 326.11,238.5 326.22,225.6 326.34,271.8 326.45,293.1 326.57,238.8 326.68,256.3 326.80,236.3 326.91,263.6 327.03,234.5 327.14,243.1 327.26,246.3 327.37,251.5 327.49,254.1 327.60,258.1 327.72,258.3 327.83,239.6 327.95,277.7 328.07,221.3 328.18,266.7 328.30,239.7 328.41,266.3 328.53,270.5 328.64,326.1 328.76,272.2 328.87,298.3 328.99,283.1 329.10,272.4 329.22,223.1 329.33,258.8 329.45,240.9 329.56,290.9 329.68,255.2 329.79,247.4 329.91,219.6 330.02,282.6 330.14,249.0 330.25,256.4 330.37,291.4 330.49,264.4 330.60,271.0 330.72,311.8 330.83,249.2 330.95,250.6 331.06,275.7 331.18,300.0 331.29,227.5 331.41,257.3 331.52,238.9 331.64,229.2 331.75,277.9 331.87,243.9 331.98,270.4 332.10,265.5 332.21,349.5 332.33,204.9 332.44,236.5 332.56,260.8 332.67,268.0 332.79,271.3 332.90,255.5 333.02,288.0 333.14,277.4 333.25,265.3 333.37,279.1 333.48,267.0 333.60,280.3 333.71,214.7 333.83,231.2 333.94,252.8 334.06,265.3 334.17,233.2 334.29,255.9 334.40,266.2 334.52,256.4 334.63,256.3 334.75,229.2 334.86,264.4 334.98,227.1 335.09,287.7 335.21,206.9 335.32,290.9 335.44,219.3 335.56,272.8 335.67,265.4 335.79,241.2 335.90,233.1 336.02,293.9 336.13,273.2 336.25,301.5 336.36,260.5 336.48,266.6 336.59,273.3 336.71,282.3 336.82,274.3 336.94,284.0 337.05,250.9 337.17,226.7 337.28,316.0 337.40,267.0 337.51,275.1 337.63,251.8 337.74,289.5 337.86,267.8 337.98,291.9 338.09,246.8 338.21,261.4 338.32,268.2 338.44,254.8 338.55,270.5 338.67,305.8 338.78,249.2 338.90,256.8 339.01,268.0 339.13,239.7 339.24,234.0 339.36,293.3 339.47,284.9 339.59,225.9 339.70,229.0 339.82,357.7 339.93,295.7 340.05,281.1 340.16,277.3 340.28,306.6 340.40,263.1 340.51,298.4 340.63,296.5 340.74,241.4 340.86,282.3 340.97,181.4 341.09,248.4 341.20,243.9 341.32,272.9 341.43,262.8 341.55,286.1 341.66,221.0 341.78,247.9 341.89,293.6 342.01,263.8 342.12,246.3 342.24,252.1 342.35,219.0 342.47,230.2 342.58,278.4 342.70,266.3 342.82,298.4 342.93,257.7 343.05,260.1 343.16,231.4 343.28,261.5 343.39,307.8 343.51,282.0 343.62,261.1 343.74,297.7 343.85,287.3 343.97,273.7 344.08,255.5 344.20,268.3 344.31,287.8 344.43,244.5 344.54,278.4 344.66,277.3 344.77,301.1 344.89,285.1 345.00,247.9 345.12,307.5 345.23,265.8 345.35,246.2 345.47,274.0 345.58,258.0 345.70,294.0 345.81,231.7 345.93,236.8 346.04,258.1 346.16,311.2 346.27,292.1 346.39,239.9 346.50,221.8 346.62,256.6 346.73,233.2 346.85,280.3 346.96,178.2 347.08,263.8 347.19,253.5 347.31,305.1 347.42,240.8 347.54,231.4 347.65,294.9 347.77,300.4 347.89,255.2 348.00,281.5 348.12,314.7 348.23,244.0 348.35,260.0 348.46,338.1 348.58,230.8 348.69,260.4 348.81,284.2 348.92,261.4 349.04,291.9 349.15,284.4 349.27,254.4 349.38,278.8 349.50,276.0 349.61,222.9 349.73,242.8 349.84,244.2 349.96,250.9 350.07,252.0 350.19,228.1 350.31,264.4 350.42,218.3 350.54,289.5 350.65,270.7 350.77,301.1 350.88,273.1 351.00,199.2 351.11,228.2 351.23,281.8 351.34,263.7 351.46,273.5 351.57,283.8 351.69,295.9 351.80,365.2 351.92,310.6 352.03,261.1 352.15,263.3 352.26,281.6 352.38,291.1 352.49,301.2 352.61,217.9 352.73,300.1 352.84,225.6 352.96,249.1 353.07,273.7 353.19,295.1 353.30,238.3 353.42,221.4 353.53,289.1 353.65,271.9 353.76,238.0 353.88,255.6 353.99,214.8 354.11,279.2 354.22,250.5 354.34,297.6 354.45,233.1 354.57,283.6 354.68,297.7 354.80,267.2 354.91,267.6 355.03,216.9 355.15,273.0 355.26,264.2 355.38,249.3 355.49,224.9 355.61,265.6 355.72,238.3 355.84,251.1 355.95,271.8 356.07,261.9 356.18,263.1 356.30,288.6 356.41,234.1 356.53,301.2 356.64,235.1 356.76,240.4 356.87,266.4 356.99,284.5 357.10,270.0 357.22,252.3 357.33,245.6 357.45,256.8 357.56,239.5 357.68,278.9 357.80,258.1 357.91,306.2 358.03,245.1 358.14,260.1 358.26,275.1 358.37,235.3 358.49,246.9 358.60,309.6 358.72,262.9 358.83,303.1 358.95,237.7 359.06,344.1 359.18,277.8 359.29,262.0 359.41,270.6 359.52,255.2 359.64,248.0 359.75,232.3 359.87,290.5 359.98,191.4 360.10,289.0 360.22,257.0 360.33,235.4 360.45,246.3 360.56,354.7 360.68,282.8 360.79,276.3 360.91,265.2 361.02,235.7 361.14,298.8 361.25,252.4 361.37,248.9 361.48,250.1 361.60,252.4 361.71,226.5 361.83,251.9 361.94,242.8 362.06,250.0 362.17,219.7 362.29,315.3 362.40,232.3 362.52,270.9 362.64,271.5 362.75,290.1 362.87,314.6 362.98,274.2 363.10,282.5 363.21,251.6 363.33,213.5 363.44,228.4 363.56,257.1 363.67,270.6 363.79,283.2 363.90,285.4 364.02,294.8 364.13,278.8 364.25,263.7 364.36,268.7 364.48,302.8 364.59,271.2 364.71,288.5 364.82,259.8 364.94,216.9 365.06,248.1 365.17,272.6 365.29,309.2 365.40,303.4 365.52,311.2 365.63,245.3 365.75,285.5 365.86,262.2 365.98,281.5 366.09,261.5 366.21,227.3 366.32,283.6 366.44,273.7 366.55,366.7 366.67,240.7 366.78,293.9 366.90,297.2 367.01,305.0 367.13,305.8 367.24,251.0 367.36,219.6 367.48,294.1 367.59,237.4 367.71,256.8 367.82,298.1 367.94,272.5 368.05,271.2 368.17,285.8 368.28,207.6 368.40,325.5 368.51,252.5 368.63,253.9 368.74,283.1 368.86,259.3 368.97,378.1 369.09,259.1 369.20,250.7 369.32,241.8 369.43,136.0 369.55,215.9 369.66,202.4 369.78,231.3 369.89,229.8 370.01,316.4 370.13,268.3 370.24,294.9 370.36,286.5 370.47,229.5 370.59,295.6 370.70,269.1 370.82,331.7 370.93,270.3 371.05,260.5 371.16,140.3 371.28,294.4 371.39,190.4 371.51,316.3 371.62,348.6 371.74,299.7 371.85,215.0 371.97,188.4 372.08,250.0 372.20,297.0 372.31,283.8 372.43,218.2 372.55,307.2 372.66,200.4 372.78,201.4 372.89,260.7 373.01,234.9 373.12,230.0 373.24,193.1 373.35,316.9 373.47,117.4 373.58,283.0 373.70,303.4 373.81,259.0 373.93,275.0 374.04,493.9 374.16,347.9 374.27,313.6 374.39,193.8 374.50,168.8 374.62,232.3 374.73,206.1 374.85,291.6 374.97,268.0 375.08,250.0 375.20,322.2 375.31,317.3 375.43,259.1 375.54,281.1 375.66,321.2 375.77,244.9 375.89,278.0 376.00,214.0 376.12,264.1 376.23,279.9 376.35,257.7 376.46,273.0 376.58,115.1 376.69,285.0 376.81,228.2 376.92,233.3 377.04,203.4 377.15,350.9 377.27,283.9 377.39,284.9 377.50,256.0 377.62,393.2 377.73,114.5 377.85,228.8 377.96,256.0 378.08,320.3 378.19,205.7 378.31,220.8 378.42,290.8 378.54,228.7 378.65,297.7 378.77,217.2 378.88,273.7 379.00,299.7 379.11,113.9 379.23,297.3 379.34,256.3 379.46,257.0 379.57,262.5 379.69,287.1 379.81,335.9 379.92,260.4 380.04,340.4 380.15,255.0 380.27,223.3 380.38,254.1 380.50,278.9 380.61,270.7 380.73,268.9 380.84,196.3 380.96,285.3 381.07,297.5 381.19,225.0 381.30,264.4 381.42,233.2 381.53,272.6 381.65,261.6 381.76,269.7 381.88,249.6 381.99,238.7 382.11,256.6 382.22,286.0 382.34,289.2 382.46,215.2 382.57,272.8 382.69,273.1 382.80,221.9 382.92,233.0 383.03,248.8 383.15,276.1 383.26,232.3 383.38,253.0 383.49,248.9 383.61,269.0 383.72,328.5 383.84,303.4 383.95,253.0 384.07,253.4 384.18,270.8 384.30,297.8 384.41,305.5 384.53,273.3 384.64,305.5 384.76,240.5 384.88,234.1 384.99,224.6 385.11,241.3 385.22,280.5 385.34,288.3 385.45,173.9 385.57,280.4 385.68,268.8 385.80,239.4 385.91,248.4 386.03,249.1 386.14,258.5 386.26,247.3 386.37,227.7 386.49,293.1 386.60,276.4 386.72,301.9 386.83,223.6 386.95,231.6 387.06,245.2 387.18,296.5 387.30,259.6 387.41,270.2 387.53,261.9 387.64,269.0 387.76,251.0 387.87,274.6 387.99,242.8 388.10,257.9 388.22,271.8 388.33,266.9 388.45,275.8 388.56,243.8 388.68,271.2 388.79,256.6 388.91,197.2 389.02,304.0 389.14,241.6 389.25,292.5 389.37,247.2 389.48,253.5 389.60,308.6 389.72,342.6 389.83,277.7 389.95,286.0 390.06,295.8 390.18,245.7 390.29,270.3 390.41,254.4 390.52,275.5 390.64,256.4 390.75,284.1 390.87,264.6 390.98,249.6 391.10,262.7 391.21,276.2 391.33,293.2 391.44,259.7 391.56,255.4 391.67,270.8 391.79,177.6 391.90,250.5 392.02,224.6 392.14,272.0 392.25,255.6 392.37,254.6 392.48,298.0 392.60,260.8 392.71,335.1 392.83,229.9 392.94,270.7 393.06,284.8 393.17,269.7 393.29,259.8 393.40,279.0 393.52,265.3 393.63,300.4 393.75,269.9 393.86,244.8 393.98,215.5 394.09,246.5 394.21,257.2 394.32,234.8 394.44,238.8 394.55,223.0 394.67,237.3 394.79,267.0 394.90,257.5 395.02,259.5 395.13,256.4 395.25,258.9 395.36,285.0 395.48,209.2 395.59,282.0 395.71,318.5 395.82,262.2 395.94,263.7 396.05,309.1 396.17,247.0 396.28,350.2 396.40,261.5 396.51,222.9 396.63,217.9 396.74,296.4 396.86,238.4 396.97,253.0 397.09,253.6 397.21,240.9 397.32,283.3 397.44,279.8 397.55,286.2 397.67,284.2 397.78,266.5 397.90,303.0 398.01,292.1 398.13,249.7 398.24,265.8 398.36,254.5 398.47,314.8 398.59,285.0 398.70,278.8 398.82,263.1 398.93,279.7 399.05,241.0 399.16,265.4 399.28,263.4 399.39,263.5 399.51,246.5 399.63,276.6 399.74,236.3 399.86,252.6 399.97,260.1 400.09,262.8 400.20,320.1 400.32,238.9 400.43,240.7 400.55,254.6 400.66,200.0 400.78,260.9 400.89,233.1 401.01,264.6 401.12,317.8 401.24,231.0 401.35,261.2 401.47,295.5 401.58,269.2 401.70,287.7 401.81,216.3 401.93,251.6 402.05,306.2 402.16,250.4 402.28,274.6 402.39,216.8 402.51,292.3 402.62,296.7 402.74,262.2 402.85,273.2 402.97,275.1 403.08,314.9 403.20,253.4 403.31,222.8 403.43,315.4 403.54,235.1 403.66,279.2 403.77,234.8 403.89,253.2 404.00,268.9 404.12,236.7 404.23,250.9 404.35,279.8 404.47,246.4 404.58,277.6 404.70,204.9 404.81,216.7 404.93,273.3 405.04,280.3 405.16,255.5 405.27,305.9 405.39,300.4 405.50,277.3 405.62,277.9 405.73,262.1 405.85,236.3 405.96,276.6 406.08,251.8 406.19,249.1 406.31,293.1 406.42,258.2 406.54,289.3 406.65,237.7 406.77,252.7 406.88,263.4 407.00,300.0 407.12,261.0 407.23,284.6 407.35,246.5 407.46,267.1 407.58,285.8 407.69,241.1 407.81,246.1 407.92,279.9 408.04,235.3 408.15,271.9 408.27,272.2 408.38,260.8 408.50,284.2 408.61,275.8 408.73,268.2 408.84,226.3 408.96,227.1 409.07,270.8 409.19,224.3 409.30,265.0 409.42,254.5 409.54,182.8 409.65,256.7 409.77,228.6 409.88,257.9 410.00,296.2 410.11,231.8 410.23,275.0 410.34,272.1 410.46,319.0 410.57,239.3 410.69,243.8 410.80,341.1 410.92,239.8 411.03,222.4 411.15,265.1 411.26,240.8 411.38,283.9 411.49,273.4 411.61,237.9 411.72,254.3 411.84,299.8 411.96,255.0 412.07,268.8 412.19,285.9 412.30,253.2 412.42,274.8 412.53,306.2 412.65,293.8 412.76,220.4 412.88,304.7 412.99,258.4 413.11,248.9 413.22,248.2 413.34,296.9 413.45,272.5 413.57,260.4 413.68,244.2 413.80,320.1 413.91,295.3 414.03,239.3 414.14,236.7 414.26,254.8 414.38,280.3 414.49,253.9 414.61,261.2 414.72,243.3 414.84,297.6 414.95,261.0 415.07,268.1 415.18,293.8 415.30,189.1 415.41,263.0 415.53,274.9 415.64,254.1 415.76,302.1 415.87,265.3 415.99,253.3 416.10,256.9 416.22,237.4 416.33,296.3 416.45,304.5 416.56,258.0 416.68,252.7 416.80,214.9 416.91,248.7 417.03,287.4 417.14,244.1 417.26,286.7 417.37,304.0 417.49,225.6 417.60,255.9 417.72,246.3 417.83,250.0 417.95,219.4 418.06,256.9 418.18,234.0 418.29,291.6 418.41,185.7 418.52,228.8 418.64,227.7 418.75,251.3 418.87,258.3 418.98,259.8 419.10,282.4 419.22,226.1 419.33,247.7 419.45,251.4 419.56,254.6 419.68,238.1 419.79,355.6 419.91,245.6 420.02,295.4 420.14,251.3 420.25,220.3 420.37,277.8 420.48,267.3 420.60,242.0 420.71,240.4 420.83,248.5 420.94,307.5 421.06,251.5 421.17,295.8 421.29,286.1 421.40,250.4 421.52,271.8 421.63,244.0 421.75,227.6 421.87,244.8 421.98,246.1 422.10,288.0 422.21,281.2 422.33,292.6 422.44,278.2 422.56,293.3 422.67,281.7 422.79,269.5 422.90,290.9 423.02,302.1 423.13,300.6 423.25,252.7 423.36,262.4 423.48,238.7 423.59,238.2 423.71,273.0 423.82,247.4 423.94,302.7 424.05,217.0 424.17,234.5 424.29,269.7 424.40,295.2 424.52,254.5 424.63,307.6 424.75,284.9 424.86,245.5 424.98,262.0 425.09,277.1 425.21,318.6 425.32,291.9 425.44,256.9 425.55,277.3 425.67,286.7 425.78,252.5 425.90,290.6 426.01,217.2 426.13,279.6 426.24,215.0 426.36,293.4 426.47,249.0 426.59,296.2 426.71,300.0 426.82,259.9 426.94,247.2 427.05,298.2 427.17,234.8 427.28,285.4 427.40,260.6 427.51,254.5 427.63,249.3 427.74,312.4 427.86,224.1 427.97,250.1 428.09,275.3 428.20,291.5 428.32,309.6 428.43,300.6 428.55,250.5 428.66,273.1 428.78,208.4 428.89,278.1 429.01,225.5 429.13,272.8 429.24,279.6 429.36,230.7 429.47,252.5 429.59,262.8 429.70,280.3 429.82,305.7 429.93,295.4 430.05,276.8 430.16,269.8 430.28,255.1 430.39,250.3 430.51,258.4 430.62,258.4 430.74,291.0 430.85,302.1 430.97,277.9 431.08,289.6 431.20,281.5 431.31,271.3 431.43,297.4 431.55,293.8 431.66,266.6 431.78,261.0 431.89,281.6 432.01,251.6 432.12,269.8 432.24,291.4 432.35,262.9 432.47,217.7 432.58,282.1 432.70,235.2 432.81,230.0 432.93,227.1 433.04,286.1 433.16,214.4 433.27,339.0 433.39,270.7 433.50,270.1 433.62,249.1 433.73,262.6 433.85,268.6 433.96,232.4 434.08,283.4 434.20,192.0 434.31,244.4 434.43,246.6 434.54,237.0 434.66,292.8 434.77,237.3 434.89,252.0 435.00,220.6 435.12,297.5 435.23,258.5 435.35,271.3 435.46,306.8 435.58,283.1 435.69,236.2 435.81,276.5 435.92,283.4 436.04,242.5 436.15,239.6 436.27,239.6 436.38,285.2 436.50,265.4 436.62,238.6 436.73,281.6 436.85,284.1 436.96,243.5 437.08,225.5 437.19,294.9 437.31,299.4 437.42,303.0 437.54,291.2 437.65,267.6 437.77,248.7 437.88,267.8 438.00,282.8 438.11,260.1 438.23,289.8 438.34,265.1 438.46,281.2 438.57,233.0 438.69,243.8 438.80,286.4 438.92,290.8 439.04,275.7 439.15,308.2 439.27,283.6 439.38,283.8 439.50,242.2 439.61,275.4 439.73,285.2 439.84,300.0 439.96,295.6 440.07,265.6 440.19,345.0 440.30,236.0 440.42,280.8 440.53,237.9 440.65,257.5 440.76,264.0 440.88,318.1 440.99,298.7 441.11,186.3 441.22,229.6 441.34,258.8 441.46,245.1 441.57,274.9 441.69,273.9 441.80,281.7 441.92,239.9 442.03,255.4 442.15,270.2 442.26,272.7 442.38,333.6 442.49,255.9 442.61,286.3 442.72,221.7 442.84,257.5 442.95,263.6 443.07,227.6 443.18,238.7 443.30,266.2 443.41,250.7 443.53,292.7 443.64,281.1 443.76,310.0 443.88,233.9 443.99,315.1 444.11,247.1 444.22,286.3 444.34,213.5 444.45,269.1 444.57,257.3 444.68,248.8 444.80,223.6 444.91,255.1 445.03,242.2 445.14,280.0 445.26,246.3 445.37,260.1 445.49,276.4 445.60,266.4 445.72,265.5 445.83,259.2 445.95,254.0 446.06,277.6 446.18,283.8 446.29,245.5 446.41,309.6 446.53,280.5 446.64,225.8 446.76,308.1 446.87,282.6 446.99,247.0 447.10,308.4 447.22,216.4 447.33,297.9 447.45,228.6 447.56,225.6 447.68,241.4 447.79,269.8 447.91,255.1 448.02,288.1 448.14,244.0 448.25,294.1 448.37,271.2 448.48,239.4 448.60,293.9 448.71,273.7 448.83,259.8 448.95,300.1 449.06,235.3 449.18,255.5 449.29,339.6 449.41,265.1 449.52,284.8 449.64,281.6 449.75,262.0 449.87,283.0 449.98,240.2 450.10,282.9 450.21,239.8 450.33,265.0 450.44,242.9 450.56,278.5 450.67,277.5 450.79,295.0 450.90,249.7 451.02,240.8 451.13,218.0 451.25,232.2 451.37,257.7 451.48,269.5 451.60,254.3 451.71,264.6 451.83,227.9 451.94,240.7 452.06,286.4 452.17,282.4 452.29,230.3 452.40,256.3 452.52,270.1 452.63,234.7 452.75,274.3 452.86,329.1 452.98,276.3 453.09,316.0 453.21,242.6 453.32,296.5 453.44,279.2 453.55,283.9 453.67,246.0 453.79,265.7 453.90,263.5 454.02,309.2 454.13,266.2 454.25,303.7 454.36,256.3 454.48,254.9 454.59,264.3 454.71,213.7 454.82,250.9 454.94,249.2 455.05,260.4 455.17,269.1 455.28,240.2 455.40,236.8 455.51,299.0 455.63,238.0 455.74,206.3 455.86,240.3 455.97,252.4 456.09,297.4 456.21,295.5 456.32,219.1 456.44,257.7 456.55,302.1 456.67,255.3 456.78,273.6 456.90,313.6 457.01,317.8 457.13,307.1 457.24,257.2 457.36,265.1 457.47,270.6 457.59,256.9 457.70,249.1 457.82,312.9 457.93,272.0 458.05,286.2 458.16,297.1 458.28,278.6 458.39,267.2 458.51,271.0 458.62,303.1 458.74,276.9 458.86,214.4 458.97,292.3 459.09,309.4 459.20,182.8 459.32,249.2 459.43,327.6 459.55,294.1 459.66,239.4 459.78,285.0 459.89,294.5 460.01,280.3 460.12,266.8 460.24,246.3 460.35,248.5 460.47,264.5 460.58,241.0 460.70,261.9 460.81,241.9 460.93,301.7 461.04,306.3 461.16,244.8 461.28,301.4 461.39,272.0 461.51,266.5 461.62,277.0 461.74,276.1 461.85,229.7 461.97,297.1 462.08,203.5 462.20,232.8 462.31,263.3 462.43,264.4 462.54,246.0 462.66,219.0 462.77,295.9 462.89,261.7 463.00,268.9 463.12,250.1 463.23,259.9 463.35,247.7 463.46,275.2 463.58,262.6 463.70,281.9 463.81,281.8 463.93,267.7 464.04,267.7 464.16,295.5 464.27,225.3 464.39,267.5 464.50,301.2 464.62,236.8 464.73,284.0 464.85,251.4 464.96,264.3 465.08,257.7 465.19,259.7 465.31,279.4 465.42,262.8 465.54,222.0 465.65,296.4 465.77,262.2 465.88,253.2 466.00,292.2 466.12,211.5 466.23,228.7 466.35,273.9 466.46,222.0 466.58,250.7 466.69,262.0 466.81,252.2 466.92,248.3 467.04,234.9 467.15,253.2 467.27,260.3 467.38,259.5 467.50,230.7 467.61,243.8 467.73,290.9 467.84,281.0 467.96,255.7 468.07,280.7 468.19,274.0 468.30,289.6 468.42,270.9 468.54,253.5 468.65,239.4 468.77,263.6 468.88,233.0 469.00,265.9 469.11,226.1 469.23,239.3 469.34,251.7 469.46,277.3 469.57,295.3 469.69,268.0 469.80,259.5 469.92,216.7 470.03,301.1 470.15,217.1 470.26,270.6 470.38,246.1 470.49,311.1 470.61,260.4 470.72,273.1 470.84,247.1 470.95,339.0 471.07,294.7 471.19,240.6 471.30,246.8 471.42,249.2 471.53,239.1 471.65,236.8 471.76,264.4 471.88,300.5 471.99,301.2 472.11,230.7 472.22,246.4 472.34,261.3 472.45,275.6 472.57,263.1 472.68,263.2 472.80,272.9 472.91,282.7 473.03,234.0 473.14,258.2 473.26,280.2 473.37,299.0 473.49,283.4 473.61,208.4 473.72,245.2 473.84,269.7 473.95,262.6 474.07,272.1 474.18,293.7 474.30,231.9 474.41,254.7 474.53,218.2 474.64,284.3 474.76,267.6 474.87,242.2 474.99,270.5 475.10,301.3 475.22,289.5 475.33,261.4 475.45,255.4 475.56,266.4 475.68,239.2 475.79,239.5 475.91,255.9 476.03,263.2 476.14,270.7 476.26,250.3 476.37,241.3 476.49,262.4 476.60,252.8 476.72,272.6 476.83,301.9 476.95,290.9 477.06,245.1 477.18,252.9 477.29,224.8 477.41,262.5 477.52,242.6 477.64,231.4 477.75,239.5 477.87,280.3 477.98,268.8 478.10,260.7 478.21,290.5 478.33,252.2 478.45,339.6 478.56,276.8 478.68,216.2 478.79,271.7 478.91,269.3 479.02,270.3 479.14,283.0 479.25,253.6 479.37,263.4 479.48,223.1 479.60,248.9 479.71,250.7 479.83,269.8 479.94,302.0 480.06,266.3 480.17,286.8 480.29,240.5 480.40,264.7 480.52,223.0 480.63,245.8 480.75,243.3 480.87,258.2 480.98,258.7 481.10,247.8 481.21,241.2 481.33,283.0 481.44,340.5 481.56,222.3 481.67,266.3 481.79,270.7 481.90,282.5 482.02,302.9 482.13,234.7 482.25,262.4 482.36,256.5 482.48,219.2 482.59,231.9 482.71,287.8 482.82,238.0 482.94,248.5 483.05,254.0 483.17,252.1 483.28,264.4 483.40,226.6 483.52,248.7 483.63,255.3 483.75,233.2 483.86,241.8 483.98,252.5 484.09,255.8 484.21,217.2 484.32,251.3 484.44,266.2 484.55,286.9 484.67,273.1 484.78,292.1 484.90,261.1 485.01,257.5 485.13,319.2 485.24,263.3 485.36,247.8 485.47,259.7 485.59,289.6 485.70,232.6 485.82,282.6 485.94,335.1 486.05,293.0 486.17,264.2 486.28,239.6 486.40,235.1 486.51,258.6 486.63,296.1 486.74,281.6 486.86,288.1 486.97,268.6 487.09,311.8 487.20,261.1 487.32,212.1 487.43,267.9 487.55,252.5 487.66,289.3 487.78,303.3 487.89,281.1 488.01,235.2 488.12,238.4 488.24,276.3 488.36,234.0 488.47,272.7 488.59,226.3 488.70,251.9 488.82,276.2 488.93,244.1 489.05,285.1 489.16,289.5 489.28,303.7 489.39,257.4 489.51,265.3 489.62,266.0 489.74,275.2 489.85,227.7 489.97,275.6 490.08,284.0 490.20,209.2 490.31,227.8 490.43,255.2 490.54,312.7 490.66,280.7 490.78,248.1 490.89,263.4 491.01,223.7 491.12,302.8 491.24,246.2 491.35,281.9 491.47,229.2 491.58,266.0 491.70,236.6 491.81,282.8 491.93,305.2 492.04,296.6 492.16,281.8 492.27,294.4 492.39,231.1 492.50,202.6 492.62,256.3 492.73,295.5 492.85,267.5 492.96,285.1 493.08,222.6 493.20,254.8 493.31,249.7 493.43,276.6 493.54,322.1 493.66,288.9 493.77,300.4 493.89,252.7 494.00,260.9 494.12,336.6 494.23,277.1 494.35,215.0 494.46,297.1 494.58,296.0 494.69,271.9 494.81,288.8 494.92,279.3 495.04,246.2 495.15,205.7 495.27,330.3 495.38,264.5 495.50,262.4 495.61,267.1 495.73,271.2 495.85,277.3 495.96,227.4 496.08,282.6 496.19,97.9 496.31,263.9 496.42,259.8 496.54,271.1 496.65,225.0 496.77,264.2 496.88,256.9 497.00,266.1 497.11,308.7 497.23,301.4 497.34,311.9 497.46,255.8 497.57,297.2 497.69,362.2 497.80,253.5 497.92,240.9 498.03,342.5 498.15,188.4 498.27,262.4 498.38,269.1 498.50,214.9 498.61,260.6 498.73,294.8 498.84,180.5 498.96,319.9 499.07,89.3 499.19,223.1 499.30,320.8 499.42,395.9 499.53,244.9 499.65,192.4 499.76,312.6 499.88,266.5 499.99,230.8 500.11,259.8 500.22,330.7 500.34,243.1 500.45,258.4 500.57,241.1 500.69,206.0 500.80,211.9 500.92,242.9 501.03,247.9 501.15,107.3 501.26,271.5 501.38,252.5 501.49,286.6 501.61,258.8 501.72,310.5 501.84,185.1 501.95,181.3 502.07,285.8 502.18,243.4 502.30,277.0 502.41,199.8 502.53,241.9 502.64,260.0 502.76,276.2 502.87,127.4 502.99,318.4 503.11,230.5 503.22,302.4 503.34,237.8 503.45,257.6 503.57,211.2 503.68,264.7 503.80,215.4 503.91,311.5 504.03,402.2 504.14,275.2 504.26,254.9 504.37,260.6 504.49,221.7 504.60,169.0 504.72,249.6 504.83,335.8 504.95,211.6 505.06,356.9 505.18,310.7 505.29,341.1 505.41,213.3 505.53,322.1 505.64,259.2 505.76,287.5 505.87,342.5 505.99,278.4 506.10,238.1 506.22,200.6 506.33,228.1 506.45,278.8 506.56,263.6 506.68,279.4 506.79,251.4 506.91,213.3 507.02,385.6 507.14,257.0 507.25,287.4 507.37,292.3 507.48,214.2 507.60,304.9 507.71,297.2 507.83,267.4 507.94,279.1 508.06,201.0 508.18,321.2 508.29,252.5 508.41,241.6 508.52,301.9 508.64,285.5 508.75,250.7 508.87,181.1 508.98,294.0 509.10,359.2 509.21,235.4 509.33,219.6 509.44,274.5 509.56,307.1 509.67,222.7 509.79,270.0 509.90,232.4 510.02,265.2 510.13,275.3 510.25,277.5 510.36,223.7 510.48,225.0 510.60,200.6 510.71,291.5 510.83,216.5 510.94,348.6 511.06,303.4 511.17,263.7 511.29,267.0 511.40,266.6 511.52,277.6 511.63,272.7 511.75,276.8 511.86,255.3 511.98,286.8 512.09,272.0 512.21,267.9 512.32,230.6 512.44,254.4 512.55,266.9 512.67,250.3 512.78,253.6 512.90,236.5 513.02,251.1 513.13,218.9 513.25,230.2 513.36,265.0 513.48,275.2 513.59,241.9 513.71,251.0 513.82,266.4 513.94,304.2 514.05,313.9 514.17,359.7 514.28,244.8 514.40,244.0 514.51,298.9 514.63,238.2 514.74,278.4 514.86,254.3 514.97,253.6 515.09,285.6 515.20,189.9 515.32,314.1 515.44,288.7 515.55,312.7 515.67,253.1 515.78,262.3 515.90,241.4 516.01,255.1 516.13,281.0 516.24,255.3 516.36,274.4 516.47,248.9 516.59,256.1 516.70,290.6 516.82,263.8 516.93,262.5 517.05,272.2 517.16,241.9 517.28,221.8 517.39,273.8 517.51,330.6 517.62,315.8 517.74,267.3 517.86,275.6 517.97,315.4 518.09,256.8 518.20,249.3 518.32,283.7 518.43,273.9 518.55,289.9 518.66,245.1 518.78,304.8 518.89,272.3 519.01,216.0 519.12,262.6 519.24,252.4 519.35,267.8 519.47,295.5 519.58,264.7 519.70,253.9 519.81,291.5 519.93,255.5 520.04,233.3 520.16,237.6 520.27,306.6 520.39,290.2 520.51,307.4 520.62,237.6 520.74,248.9 520.85,246.6 520.97,287.6 521.08,295.3 521.20,262.0 521.31,261.4 521.43,205.7 521.54,260.4 521.66,248.0 521.77,258.3 521.89,291.9 522.00,308.4 522.12,270.8 522.23,259.8 522.35,270.9 522.46,275.4 522.58,282.5 522.69,246.3 522.81,265.3 522.93,260.8 523.04,290.1 523.16,280.6 523.27,259.8 523.39,291.0 523.50,297.8 523.62,272.7 523.73,234.4 523.85,259.2 523.96,228.0 524.08,267.4 524.19,272.2 524.31,301.4 524.42,279.4 524.54,228.6 524.65,255.8 524.77,245.9 524.88,246.6 525.00,264.1 525.11,269.4 525.23,203.4 525.35,247.4 525.46,252.6 525.58,251.8 525.69,260.1 525.81,284.6 525.92,323.6 526.04,289.3 526.15,239.2 526.27,311.7 526.38,269.7 526.50,233.1 526.61,273.1 526.73,294.5 526.84,264.3 526.96,232.2 527.07,268.2 527.19,248.8 527.30,261.4 527.42,273.9 527.53,157.5 527.65,262.1 527.77,278.3 527.88,277.1 528.00,254.5 528.11,253.8 528.23,244.9 528.34,260.4 528.46,302.5 528.57,250.8 528.69,272.2 528.80,271.6 528.92,303.9 529.03,279.3 529.15,283.5 529.26,264.8 529.38,303.1 529.49,262.6 529.61,260.8 529.72,294.1 529.84,280.7 529.95,287.0 530.07,241.6 530.19,295.3 530.30,273.1 530.42,308.7 530.53,275.5 530.65,243.1 530.76,280.9 530.88,260.5 530.99,286.6 531.11,216.3 531.22,241.4 531.34,236.2 531.45,299.7 531.57,293.6 531.68,237.4 531.80,269.1 531.91,270.8 532.03,255.7 532.14,297.7 532.26,244.9 532.37,263.4 532.49,252.1 532.60,281.9 532.72,251.3 532.84,282.9 532.95,240.4 533.07,236.1 533.18,241.5 533.30,251.2 533.41,248.3 533.53,316.7 533.64,243.4 533.76,192.5 533.87,261.5 533.99,271.5 534.10,301.4 534.22,278.4 534.33,247.7 534.45,229.1 534.56,280.7 534.68,288.2 534.79,228.2 534.91,287.7 535.02,218.3 535.14,262.6 535.26,287.7 535.37,239.7 535.49,222.3 535.60,302.6 535.72,225.6 535.83,271.4 535.95,227.4 536.06,274.1 536.18,306.4 536.29,251.5 536.41,241.1 536.52,227.4 536.64,221.6 536.75,246.8 536.87,270.3 536.98,277.9 537.10,271.8 537.21,286.3 537.33,271.3 537.44,313.9 537.56,259.5 537.68,264.6 537.79,214.5 537.91,245.2 538.02,276.8 538.14,250.0 538.25,296.9 538.37,280.1 538.48,323.0 538.60,228.6 538.71,249.3 538.83,295.6 538.94,265.5 539.06,240.5 539.17,251.7 539.29,254.5 539.40,287.0 539.52,281.0 539.63,261.5 539.75,241.3 539.86,286.2 539.98,294.1 540.10,203.4 540.21,289.0 540.33,237.4 540.44,257.9 540.56,242.2 540.67,221.1 540.79,247.0 540.90,244.8 541.02,288.6 541.13,282.6 541.25,248.1 541.36,226.2 541.48,229.7 541.59,330.6 541.71,256.2 541.82,258.9 541.94,239.2 542.05,263.4 542.17,265.5 542.28,292.1 542.40,239.5 542.52,292.8 542.63,251.3 542.75,302.2 542.86,237.0 542.98,215.8 543.09,243.2 543.21,306.7 543.32,275.7 543.44,234.9 543.55,285.6 543.67,262.2 543.78,276.8 543.90,310.4 544.01,256.3 544.13,253.2 544.24,293.7 544.36,249.8 544.47,285.3 544.59,290.9 544.70,263.7 544.82,282.2 544.93,236.1 545.05,305.8 545.17,245.7 545.28,239.6 545.40,338.1 545.51,310.6 545.63,250.1 545.74,276.8 545.86,254.4 545.97,235.9 546.09,273.9 546.20,292.6 546.32,310.8 546.43,217.2 546.55,288.9 546.66,256.2 546.78,258.2 546.89,301.2 547.01,226.5 547.12,237.3 547.24,243.0 547.35,295.8 547.47,274.8 547.59,278.6 547.70,275.0 547.82,294.2 547.93,253.2 548.05,258.2 548.16,254.9 548.28,277.5 548.39,232.2 548.51,259.2 548.62,295.7 548.74,281.1 548.85,265.4 548.97,240.2 549.08,329.1 549.20,270.6 549.31,281.7 549.43,247.5 549.54,275.9 549.66,280.1 549.77,283.9 549.89,250.2 550.01,278.2 550.12,309.1 550.24,248.6 550.35,282.8 550.47,255.1 550.58,254.7 550.70,234.3 550.81,238.2 550.93,279.4 551.04,268.3 551.16,298.7 551.27,222.7 551.39,253.0 551.50,229.6 551.62,272.5 551.73,319.2 551.85,227.7 551.96,261.6 552.08,260.6 552.19,218.6 552.31,248.0 552.43,250.8 552.54,306.8 552.66,237.2 552.77,278.1 552.89,276.5 553.00,323.0 553.12,241.3 553.23,273.0 553.35,311.2 553.46,259.9 553.58,250.6 553.69,266.0 553.81,297.5 553.92,285.2 554.04,297.7 554.15,258.6 554.27,243.7 554.38,238.7 554.50,283.6 554.61,258.1 554.73,250.3 554.85,277.6 554.96,267.9 555.08,221.8 555.19,258.8 555.31,242.2 555.42,275.6 555.54,262.8 555.65,310.1 555.77,264.5 555.88,234.6 556.00,235.6 556.11,234.5 556.23,247.0 556.34,262.6 556.46,218.6 556.57,268.2 556.69,248.8 556.80,285.0 556.92,241.0 557.03,290.4 557.15,311.9 557.26,291.2 557.38,308.8 557.50,300.9 557.61,236.1 557.73,269.3 557.84,258.5 557.96,235.4 558.07,233.0 558.19,277.5 558.30,231.3 558.42,254.4 558.53,263.8 558.65,253.0 558.76,302.3 558.88,285.1 558.99,266.8 559.11,248.9 559.22,273.9 559.34,267.3 559.45,240.1 559.57,229.2 559.68,245.0 559.80,232.7 559.92,274.8 560.03,272.1 560.15,256.0 560.26,272.0 560.38,277.5 560.49,223.3 560.61,269.3 560.72,289.9 560.84,251.9 560.95,220.1 561.07,209.2 561.18,233.6 561.30,275.7 561.41,277.1 561.53,282.5 561.64,267.7 561.76,220.1 561.87,295.0 561.99,223.7 562.10,291.1 562.22,270.2 562.34,243.3 562.45,248.4 562.57,317.0 562.68,306.4 562.80,255.0 562.91,291.4 563.03,227.1 563.14,269.6 563.26,259.2 563.37,294.8 563.49,276.8 563.60,298.7 563.72,239.8 563.83,270.9 563.95,250.0 564.06,282.3 564.18,277.4 564.29,232.2 564.41,290.1 564.52,312.5 564.64,253.9 564.76,294.7 564.87,275.7 564.99,241.5 565.10,285.9 565.22,242.3 565.33,202.0 565.45,227.3 565.56,231.3 565.68,276.6 565.79,269.6 565.91,286.3 566.02,258.9 566.14,235.7 566.25,302.9 566.37,241.3 566.48,299.6 566.60,287.1 566.71,312.1 566.83,216.6 566.94,262.4 567.06,257.8 567.18,282.1 567.29,237.7 567.41,301.9 567.52,263.2 567.64,214.3 567.75,274.2 567.87,263.4 567.98,247.4 568.10,285.7 568.21,263.3 568.33,240.3 568.44,259.1 568.56,254.7 568.67,273.3 568.79,256.1 568.90,262.5 569.02,228.1 569.13,246.1 569.25,270.4 569.36,306.0 569.48,333.0 569.59,245.3 569.71,288.6 569.83,317.8 569.94,294.7 570.06,241.1 570.17,292.6 570.29,276.3 570.40,258.4 570.52,233.8 570.63,264.3 570.75,266.6 570.86,278.7 570.98,223.8 571.09,176.8 571.21,266.4 571.32,301.5 571.44,285.2 571.55,249.6 571.67,283.3 571.78,242.0 571.90,255.0 572.01,256.7 572.13,247.8 572.25,251.6 572.36,286.9 572.48,272.6 572.59,232.1 572.71,296.4 572.82,276.7 572.94,237.7 573.05,268.1 573.17,285.8 573.28,299.6 573.40,250.7 573.51,238.8 573.63,203.4 573.74,262.5 573.86,238.2 573.97,291.7 574.09,259.7 574.20,282.1 574.32,259.6 574.43,245.4 574.55,237.6 574.67,290.6 574.78,232.8 574.90,276.7 575.01,291.5 575.13,268.5 575.24,344.1 575.36,263.7 575.47,256.7 575.59,269.3 575.70,250.7 575.82,272.3 575.93,263.8 576.05,302.7 576.16,262.8 576.28,286.8 576.39,276.0 576.51,266.4 576.62,259.2 576.74,308.3 576.85,306.0 576.97,272.0 577.09,252.2 577.20,255.0 577.32,241.9 577.43,231.9 577.55,251.7 577.66,205.7 577.78,291.7 577.89,289.4 578.01,276.5 578.12,257.3 578.24,258.4 578.35,263.7 578.47,268.0 578.58,248.4 578.70,258.7 578.81,256.5 578.93,256.3 579.04,278.6 579.16,291.7 579.27,251.8 579.39,253.6 579.51,269.8 579.62,275.1 579.74,215.0 579.85,284.3 579.97,269.7 580.08,257.3 580.20,295.0 580.31,261.0 580.43,219.7 580.54,240.9 580.66,248.3 580.77,249.3 580.89,261.1 581.00,240.3 581.12,268.1 581.23,275.3 581.35,261.3 581.46,344.1 581.58,255.7 581.69,247.3 581.81,318.5 581.92,234.6 582.04,232.7 582.16,231.1 582.27,272.4 582.39,286.7 582.50,257.0 582.62,290.5 582.73,246.0 582.85,278.0 582.96,240.3 583.08,230.4 583.19,195.4 583.31,256.7 583.42,282.7 583.54,301.9 583.65,280.5 583.77,269.8 583.88,238.5 584.00,304.9 584.11,238.1 584.23,214.3 584.34,249.2 584.46,250.5 584.58,264.2 584.69,295.6 584.81,250.7 584.92,254.4 585.04,245.9 585.15,222.8 585.27,246.0 585.38,253.4 585.50,225.5 585.61,300.2 585.73,294.7 585.84,274.0 585.96,281.5 586.07,246.8 586.19,272.4 586.30,221.2 586.42,226.5 586.53,245.0 586.65,177.6 586.76,248.7 586.88,244.0 587.00,292.6 587.11,255.3 587.23,246.5 587.34,258.5 587.46,322.4 587.57,234.1 587.69,286.1 587.80,260.8 587.92,286.4 588.03,249.6 588.15,287.3 588.26,241.2 588.38,254.3 588.49,240.0 588.61,267.8 588.72,303.2 588.84,220.5 588.95,268.5 589.07,230.1 589.18,253.3 589.30,247.3 589.42,219.0 589.53,255.5 589.65,229.5 589.76,303.9 589.88,242.5 589.99,270.4 590.11,267.5 590.22,263.6 590.34,255.3 590.45,223.2 590.57,313.9 590.68,262.8 590.80,283.2 590.91,181.6 591.03,275.3 591.14,330.6 591.26,274.6 591.37,247.5 591.49,239.0 591.60,274.6 591.72,262.6 591.84,302.2 591.95,256.4 592.07,242.8 592.18,278.8 592.30,236.4 592.41,317.7 592.53,313.8 592.64,301.3 592.76,276.9 592.87,263.4 592.99,266.0 593.10,265.7 593.22,195.4 593.33,276.6 593.45,298.0 593.56,297.4 593.68,214.9 593.79,308.1 593.91,268.6 594.02,228.1 594.14,252.0 594.25,286.2 594.37,263.8 594.49,242.7 594.60,234.2 594.72,288.1 594.83,245.2 594.95,257.7 595.06,328.4 595.18,229.7 595.29,273.1 595.41,303.0 595.52,182.8 595.64,220.3 595.75,247.0 595.87,258.2 595.98,231.4 596.10,291.9 596.21,241.7 596.33,279.2 596.44,262.6 596.56,261.7 596.67,226.7 596.79,289.1 596.91,278.3 597.02,306.8 597.14,251.9 597.25,276.2 597.37,253.5 597.48,292.8 597.60,273.5 597.71,238.4 597.83,268.6 597.94,248.5 598.06,250.9 598.17,273.4 598.29,305.9 598.40,239.7 598.52,259.7 598.63,239.7 598.75,318.2 598.86,308.5 598.98,306.7 599.09,287.5 599.21,238.3 599.33,250.0 599.44,264.8 599.56,260.6 599.67,245.2 599.79,272.0 599.90,254.1 600.02,260.4 600.13,301.5 600.25,274.2 600.36,344.7 600.48,274.5 600.59,267.7 600.71,280.2 600.82,276.9 600.94,236.3 601.05,271.1 601.17,291.4 601.28,302.1 601.40,279.3 601.51,316.9 601.63,313.1 601.75,182.2 601.86,246.5 601.98,315.6 602.09,243.0 602.21,252.6 602.32,285.0 602.44,245.8 602.55,307.8 602.67,296.4 602.78,302.7 602.90,293.8 603.01,242.3 603.13,299.8 603.24,294.9 603.36,289.5 603.47,259.1 603.59,273.0 603.70,242.7 603.82,283.0 603.93,298.6 604.05,204.9 604.17,263.0 604.28,289.1 604.40,257.1 604.51,219.4 604.63,279.7 604.74,263.0 604.86,230.9 604.97,281.6 605.09,287.0 605.20,293.7 605.32,254.4 605.43,251.6 605.55,268.3 605.66,263.2 605.78,233.0 605.89,243.0 606.01,302.2 606.12,318.5 606.24,261.8 606.35,246.7 606.47,270.5 606.58,281.9 606.70,276.9 606.82,307.6 606.93,265.3 607.05,280.7 607.16,253.1 607.28,292.3 607.39,276.4 607.51,291.1 607.62,293.5 607.74,247.5 607.85,277.3 607.97,253.8 608.08,295.0 608.20,262.3 608.31,310.4 608.43,191.4 608.54,278.4 608.66,250.5 608.77,260.4 608.89,269.7 609.00,244.3 609.12,260.2 609.24,251.7 609.35,246.1 609.47,266.8 609.58,272.9 609.70,256.9 609.81,192.0 609.93,255.4 610.04,237.8 610.16,244.0 610.27,275.3 610.39,299.7 610.50,266.6 610.62,268.5 610.73,237.9 610.85,275.4 610.96,270.7 611.08,247.0 611.19,278.0 611.31,269.4 611.42,223.0 611.54,228.5 611.66,249.6 611.77,258.4 611.89,291.2 612.00,251.3 612.12,263.6 612.23,259.6 612.35,279.1 612.46,265.4 612.58,270.1 612.69,257.3 612.81,230.0 612.92,256.2 613.04,341.1 613.15,291.3 613.27,307.8 613.38,286.5 613.50,251.3 613.61,255.2 613.73,281.3 613.84,258.5 613.96,285.5 614.08,206.9 614.19,303.0 614.31,288.3 614.42,230.2 614.54,301.3 614.65,234.6 614.77,232.5 614.88,270.1 615.00,266.5 615.11,281.7 615.23,265.9 615.34,248.9 615.46,265.0 615.57,240.6 615.69,236.0 615.80,256.7 615.92,257.1 616.03,266.9 616.15,256.6 616.26,295.3 616.38,255.2 616.50,260.1 616.61,288.5 616.73,204.9 616.84,291.5 616.96,288.7 617.07,258.3 617.19,317.6 617.30,286.7 617.42,306.5 617.53,291.4 617.65,268.9 617.76,257.3 617.88,238.0 617.99,245.3 618.11,235.9 618.22,250.6 618.34,278.0 618.45,237.6 618.57,278.6 618.68,362.1 618.80,227.3 618.92,245.7 619.03,259.8 619.15,246.5 619.26,243.4 619.38,302.7 619.49,267.9 619.61,174.2 619.72,262.2 619.84,283.8 619.95,231.2 620.07,252.2 620.18,287.8 620.30,265.9 620.41,299.0 620.53,264.3 620.64,251.4 620.76,258.6 620.87,319.4 620.99,274.8 621.10,252.3 621.22,257.4 621.33,235.5 621.45,301.9 621.57,251.8 621.68,284.0 621.80,260.2 621.91,254.7 622.03,247.3 622.14,282.2 622.26,260.5 622.37,299.6 622.49,306.8 622.60,250.5 622.72,215.5 622.83,313.6 622.95,290.9 623.06,265.0 623.18,225.2 623.29,236.6 623.41,243.3 623.52,339.6 623.64,268.6 623.75,252.0 623.87,254.3 623.99,253.6 624.10,273.1 624.22,214.6 624.33,222.5 624.45,268.8 624.56,297.7 624.68,204.3 624.79,284.1 624.91,229.3 625.02,207.3 625.14,297.8 625.25,256.6 625.37,277.9 625.48,249.4 625.60,255.5 625.71,203.1 625.83,246.6 625.94,266.3 626.06,228.5 626.17,276.0 626.29,279.6 626.41,219.2 626.52,163.3 626.64,284.8 626.75,264.4 626.87,387.6 626.98,309.6 627.10,227.8 627.21,297.7 627.33,288.2 627.44,281.5 627.56,306.9 627.67,311.2 627.79,259.9 627.90,193.3 628.02,237.3 628.13,236.6 628.25,332.6 628.36,267.5 628.48,319.5 628.59,234.5 628.71,277.0 628.83,264.8 628.94,395.1 629.06,294.0 629.17,338.7 629.29,125.4 629.40,333.4 629.52,324.2 629.63,281.3 629.75,301.7 629.86,254.7 629.98,220.4 630.09,255.1 630.21,257.4 630.32,265.7 630.44,226.3 630.55,335.2 630.67,249.2 630.78,316.2 630.90,332.5 631.01,353.1 631.13,287.8 631.25,238.1 631.36,143.2 631.48,325.9 631.59,271.0 631.71,168.8 631.82,223.2 631.94,193.9 632.05,261.7 632.17,347.3 632.28,330.1 632.40,230.5 632.51,217.8 632.63,308.4 632.74,282.3 632.86,253.4 632.97,366.2 633.09,135.4 633.20,183.5 633.32,178.6 633.43,273.3 633.55,172.6 633.66,296.9 633.78,313.0 633.90,346.6 634.01,437.2 634.13,288.2 634.24,180.6 634.36,250.0 634.47,257.3 634.59,367.7 634.70,191.1 634.82,159.8 634.93,275.9 635.05,355.0 635.16,220.8 635.28,217.9 635.39,299.7 635.51,262.1 635.62,247.6 635.74,220.1 635.85,261.6 635.97,189.8 636.08,279.5 636.20,298.2 636.32,290.8 636.43,343.9 636.55,307.6 636.66,220.4 636.78,171.3 636.89,307.2 637.01,250.7 637.12,353.7 637.24,280.3 637.35,376.2 637.47,236.1 637.58,302.8 637.70,227.5 637.81,197.2 637.93,285.9 638.04,235.6 638.16,336.2 638.27,353.4 638.39,241.5 638.50,180.5 638.62,258.1 638.74,291.0 638.85,278.5 638.97,235.0 639.08,201.1 639.20,274.9 639.31,333.0 639.43,219.2 639.54,243.9 639.66,241.3 639.77,259.2 639.89,205.7 640.00,263.0 640.12,247.9 640.23,335.1 640.35,287.3 640.46,291.0 640.58,189.9 640.69,254.1 640.81,292.5 640.92,209.7 641.04,303.1 641.16,281.3 641.27,327.5 641.39,308.4 641.50,247.8 641.62,246.0 641.73,275.3 641.85,207.9 641.96,262.9 642.08,257.0 642.19,296.6 642.31,319.3 642.42,285.6 642.54,275.7 642.65,279.8 642.77,243.4 642.88,323.8 643.00,300.5 643.11,321.5 643.23,228.0 643.34,282.6 643.46,280.9 643.58,298.5 643.69,240.8 643.81,277.6 643.92,259.2 644.04,312.9 644.15,234.0 644.27,254.7 644.38,250.6 644.50,232.6 644.61,270.9 644.73,270.1 644.84,246.4 644.96,254.1 645.07,272.2 645.19,264.0 645.30,279.5 645.42,246.8 645.53,241.2 645.65,132.6 645.76,217.2 645.88,308.3 645.99,271.7 646.11,330.0 646.23,276.9 646.34,309.7 646.46,229.9 646.57,251.3 646.69,298.2 646.80,245.6 646.92,293.4 647.03,302.1 647.15,269.4 647.26,278.4 647.38,295.3 647.49,275.2 647.61,292.7 647.72,207.2 647.84,265.8 647.95,246.5 648.07,277.6 648.18,301.5 648.30,301.1 648.41,271.8 648.53,227.0 648.65,244.0 648.76,332.1 648.88,241.7 648.99,296.7 649.11,240.0 649.22,275.5 649.34,246.0 649.45,249.6 649.57,272.7 649.68,256.9 649.80,294.1 649.91,267.1 650.03,238.3 650.14,216.2 650.26,247.7 650.37,262.8 650.49,292.6 650.60,238.9 650.72,310.0 650.83,286.9 650.95,256.2 651.07,297.8 651.18,227.0 651.30,238.1 651.41,198.0 651.53,280.1 651.64,300.8 651.76,303.0 651.87,254.1 651.99,249.6 652.10,256.3 652.22,258.4 652.33,280.3 652.45,256.1 652.56,305.0 652.68,264.9 652.79,228.7 652.91,232.4 653.02,277.6 653.14,274.1 653.25,231.1 653.37,221.0 653.49,305.6 653.60,276.6 653.72,259.2 653.83,235.0 653.95,287.8 654.06,249.2 654.18,273.2 654.29,220.6 654.41,254.4 654.52,268.7 654.64,274.2 654.75,239.0 654.87,248.2 654.98,294.4 655.10,259.6 655.21,301.3 655.33,285.6 655.44,300.1 655.56,301.0 655.67,283.7 655.79,291.6 655.91,252.0 656.02,245.3 656.14,271.5 656.25,382.5 656.37,245.1 656.48,311.9 656.60,317.4 656.71,247.0 656.83,248.8 656.94,240.9 657.06,270.9 657.17,299.2 657.29,278.9 657.40,206.3 657.52,285.8 657.63,284.1 657.75,302.9 657.86,296.6 657.98,244.2 658.09,253.8 658.21,296.5 658.32,294.3 658.44,280.3 658.56,251.4 658.67,296.7 658.79,269.6 658.90,302.4 659.02,299.1 659.13,254.6 659.25,242.8 659.36,296.4 659.48,286.0 659.59,245.3 659.71,275.6 659.82,279.7 659.94,252.2 660.05,260.1 660.17,237.5 660.28,245.4 660.40,280.6 660.51,268.3 660.63,266.7 660.74,301.8 660.86,291.4 660.98,241.0 661.09,308.0 661.21,240.4 661.32,257.9 661.44,268.8 661.55,251.6 661.67,253.2 661.78,236.2 661.90,275.9 662.01,229.2 662.13,271.7 662.24,236.2 662.36,241.6 662.47,290.0 662.59,274.0 662.70,284.1 662.82,264.6 662.93,259.6 663.05,230.9 663.16,314.4 663.28,239.5 663.40,254.1 663.51,284.0 663.63,269.0 663.74,278.4 663.86,263.6 663.97,240.0 664.09,323.0 664.20,232.5 664.32,275.0 664.43,229.8 664.55,254.7 664.66,234.4 664.78,250.8 664.89,238.1 665.01,263.4 665.12,287.3 665.24,248.2 665.35,247.2 665.47,234.5 665.58,318.8 665.70,270.1 665.82,238.6 665.93,298.7 666.05,270.9 666.16,228.5 666.28,229.8 666.39,288.6 666.51,232.7 666.62,235.5 666.74,245.5 666.85,255.3 666.97,258.8 667.08,288.2 667.20,224.9 667.31,246.6 667.43,261.2 667.54,232.7 667.66,273.7 667.77,310.3 667.89,273.7 668.00,257.8 668.12,255.2 668.24,262.9 668.35,286.9 668.47,227.8 668.58,282.6 668.70,247.1 668.81,272.4 668.93,297.0 669.04,229.8 669.16,314.6 669.27,287.6 669.39,253.9 669.50,274.2 669.62,246.1 669.73,267.2 669.85,276.8 669.96,234.3 670.08,270.4 670.19,268.8 670.31,293.7 670.42,284.7 670.54,248.5 670.65,219.2 670.77,264.4 670.89,283.4 671.00,247.5 671.12,310.4 671.23,273.6 671.35,271.2 671.46,287.2 671.58,260.6 671.69,282.4 671.81,286.0 671.92,221.7 672.04,246.1 672.15,234.8 672.27,263.0 672.38,240.5 672.50,245.0 672.61,234.4 672.73,233.3 672.84,270.3 672.96,257.8 673.07,265.5 673.19,310.3 673.31,301.8 673.42,263.6 673.54,217.8 673.65,279.6 673.77,236.2 673.88,232.5 674.00,275.2 674.11,229.1 674.23,227.0 674.34,252.6 674.46,290.5 674.57,227.9 674.69,268.4 674.80,274.1 674.92,261.1 675.03,278.4 675.15,237.6 675.26,244.8 675.38,234.0 675.49,249.6 675.61,285.3 675.73,268.2 675.84,206.9 675.96,274.8 676.07,219.6 676.19,270.4 676.30,279.7 676.42,235.7 676.53,245.5 676.65,264.6 676.76,270.1 676.88,253.4 676.99,243.4 677.11,245.1 677.22,272.0 677.34,253.3 677.45,243.1 677.57,245.1 677.68,296.1 677.80,287.9 677.91,284.8 678.03,270.1 678.15,259.5 678.26,321.5 678.38,248.7 678.49,267.3 678.61,263.3 678.72,220.7 678.84,280.4 678.95,198.6 679.07,225.4 679.18,255.4 679.30,317.6 679.41,254.7 679.53,274.3 679.64,266.9 679.76,238.1 679.87,252.3 679.99,271.0 680.10,242.0 680.22,253.2 680.33,261.3 680.45,256.5 680.57,257.6 680.68,273.0 680.80,276.2 680.91,263.2 681.03,289.6 681.14,297.8 681.26,231.9 681.37,270.3 681.49,264.5 681.60,267.5 681.72,263.3 681.83,263.3 681.95,262.3 682.06,285.6 682.18,241.0 682.29,282.5 682.41,205.7 682.52,315.6 682.64,292.5 682.75,239.5 682.87,267.8 682.98,282.0 683.10,254.6 683.22,292.1 683.33,262.0 683.45,295.0 683.56,276.1 683.68,281.4 683.79,250.6 683.91,242.4 684.02,286.9 684.14,224.4 684.25,279.8 684.37,214.3 684.48,302.7 684.60,226.1 684.71,266.2 684.83,281.3 684.94,284.0 685.06,293.3 685.17,322.4 685.29,266.1 685.40,219.9 685.52,269.2 685.64,295.5 685.75,243.1 685.87,273.8 685.98,270.2 686.10,225.4 686.21,271.0 686.33,235.3 686.44,264.0 686.56,284.1 686.67,251.4 686.79,280.1 686.90,233.7 687.02,240.3 687.13,262.3 687.25,248.9 687.36,250.0 687.48,271.3 687.59,241.9 687.71,270.0 687.82,248.7 687.94,289.5 688.06,261.3 688.17,253.6 688.29,285.1 688.40,207.7 688.52,278.2 688.63,245.9 688.75,283.2 688.86,253.0 688.98,226.3 689.09,255.0 689.21,307.2 689.32,260.6 689.44,238.2 689.55,271.4 689.67,236.5 689.78,248.5 689.90,253.3 690.01,270.7 690.13,277.5 690.24,270.5 690.36,262.1 690.48,250.8 690.59,253.3 690.71,271.7 690.82,262.0 690.94,254.1 691.05,307.4 691.17,284.3 691.28,285.1 691.40,269.0 691.51,271.0 691.63,270.5 691.74,287.1 691.86,247.0 691.97,256.7 692.09,307.8 692.20,263.2 692.32,293.9 692.43,227.2 692.55,275.7 692.66,338.1 692.78,261.4 692.90,268.8 693.01,265.0 693.13,236.2 693.24,257.9 693.36,243.0 693.47,236.2 693.59,229.2 693.70,236.2 693.82,246.5 693.93,239.9 694.05,286.7 694.16,243.4 694.28,253.3 694.39,277.9 694.51,234.0 694.62,249.5 694.74,269.8 694.85,258.6 694.97,241.1 695.08,235.7 695.20,249.1 695.31,233.5 695.43,227.3 695.55,296.7 695.66,276.4 695.78,288.7 695.89,261.0 696.01,228.0 696.12,247.3 696.24,291.5 696.35,271.2 696.47,238.1 696.58,277.7 696.70,265.9 696.81,255.9 696.93,312.5 697.04,244.2 697.16,255.0 697.27,249.4 697.39,289.7 697.50,284.0 697.62,205.7 697.73,336.6 697.85,261.6 697.97,260.2 698.08,219.4 698.20,231.3 698.31,282.7 698.43,280.9 698.54,221.3 698.66,271.9 698.77,229.5 698.89,224.1 699.00,277.9 699.12,270.6 699.23,261.3 699.35,286.6 699.46,289.7 699.58,274.1 699.69,242.4 699.81,275.4 699.92,268.9 700.04,275.9 700.15,222.9 700.27,231.1 700.39,299.3 700.50,281.0 700.62,249.7 700.73,301.0 700.85,248.5 700.96,232.6 701.08,286.5 701.19,258.2 701.31,345.6 701.42,250.9 701.54,261.2 701.65,258.1 701.77,229.9 701.88,251.8 702.00,230.3 702.11,247.8 702.23,295.7 702.34,257.0 702.46,251.4 702.57,302.3 702.69,230.7 702.81,261.7 702.92,254.3 703.04,287.5 703.15,261.6 703.27,256.0 703.38,272.1 703.50,261.4 703.61,294.6 703.73,230.0 703.84,293.4 703.96,297.9 704.07,289.3 704.19,200.6 704.30,250.0 704.42,288.0 704.53,256.4 704.65,289.2 704.76,235.7 704.88,250.0 704.99,215.4 705.11,290.7 705.23,247.1 705.34,289.2 705.46,249.2 705.57,246.8 705.69,306.4 705.80,294.1 705.92,294.9 706.03,304.0 706.15,283.1 706.26,289.3 706.38,302.4 706.49,261.1 706.61,250.1 706.72,320.0 706.84,278.5 706.95,263.3 707.07,269.7 707.18,282.4 707.30,243.6 707.41,242.7 707.53,246.9 707.64,269.1 707.76,220.6 707.88,221.1 707.99,274.4 708.11,266.8 708.22,234.4 708.34,285.1 708.45,253.8 708.57,262.4 708.68,282.5 708.80,269.8 708.91,306.0 709.03,278.2 709.14,317.4 709.26,232.7 709.37,224.9 709.49,233.5 709.60,256.2 709.72,239.1 709.83,232.7 709.95,238.7 710.06,241.1 710.18,288.3 710.30,253.2 710.41,278.1 710.53,295.5 710.64,294.5 710.76,253.2 710.87,237.9 710.99,300.6 711.10,226.9 711.22,332.1 711.33,274.0 711.45,276.2 711.56,265.7 711.68,239.7 711.79,274.1 711.91,293.6 712.02,255.4 712.14,312.9 712.25,260.3 712.37,235.4 712.48,223.5 712.60,244.7" fill="none" stroke="#0072BD" stroke-width="1.0" stroke-linejoin="round"/>
<line x1="975.6" y1="111" x2="975.6" y2="330" stroke="#0072BD" stroke-width="1" stroke-opacity="0.3"/><line x1="975.6" y1="330" x2="975.6" y2="500" stroke="#0072BD" stroke-width="1" stroke-opacity="0.75"/><polyline points="914.05,465.0 914.74,493.3 915.19,488.5 915.63,506.8 916.37,485.2 916.97,508.1 917.41,507.0 917.86,469.1 918.20,321.1 918.74,499.3 919.16,263.9 919.84,247.7 920.52,506.3 920.97,477.9 921.41,484.7 921.85,492.7 922.30,476.1 922.74,491.0 923.19,466.8 923.63,503.6 924.08,492.2 924.52,493.7 924.97,500.0 925.41,489.7 925.92,433.1 926.30,478.0 926.74,473.1 927.19,505.7 927.63,494.7 928.08,502.9 928.52,507.2 928.97,472.9 929.41,496.3 929.85,506.8 930.30,485.4 930.74,505.3 931.19,470.9 931.63,503.3 932.08,508.1 932.52,503.9 933.15,456.3 933.85,471.9 934.30,484.0 934.74,500.1 935.19,508.1 935.63,506.2 936.08,464.9 936.52,493.4 936.96,477.7 937.41,507.6 937.85,508.0 938.20,155.2 938.74,477.9 939.19,497.6 939.63,496.4 940.39,395.5 940.96,506.9 941.41,451.8 941.85,486.2 942.30,504.7 942.74,461.3 943.19,502.0 943.57,308.7 944.08,473.9 944.73,366.6 945.41,454.5 945.85,501.7 946.30,506.1 946.74,507.9 947.19,495.1 947.63,461.3 948.07,481.0 948.52,446.5 948.96,501.9 949.41,495.6 949.85,499.5 950.52,346.3 951.19,494.4 951.63,487.6 952.07,496.1 952.52,457.8 952.96,507.7 953.41,504.6 953.85,487.2 954.30,497.1 954.74,443.7 955.19,454.4 955.63,474.5 956.07,464.0 956.52,459.1 957.18,327.5 957.85,501.7 958.30,466.1 958.74,504.1 959.18,481.3 959.63,445.3 960.07,431.5 960.52,448.2 960.96,507.3 961.41,487.3 961.85,501.8 962.30,410.4 962.97,370.9 963.63,486.6 964.07,505.5 964.52,426.6 964.96,459.2 965.41,502.9 965.85,473.2 966.30,506.7 966.74,458.0 967.18,494.5 967.63,503.4 968.07,498.6 968.52,453.9 968.96,432.2 969.41,479.3 969.85,428.9 970.20,314.5 970.74,494.9 971.18,481.4 971.63,473.2 972.07,367.7 972.52,497.2 972.96,498.5 973.41,444.6 973.85,357.7 974.29,366.7 974.74,411.0 975.18,499.7 975.63,388.2 976.07,413.7 976.52,499.1 976.96,455.4 977.41,503.2 977.85,384.4 978.29,404.6 978.89,365.1 979.63,478.0 980.07,382.4 980.52,488.6 980.96,493.4 981.40,465.3 981.85,449.6 982.29,478.8 982.74,419.7 983.18,420.4 983.63,488.3 984.07,421.8 984.52,465.1 984.96,386.6 985.40,481.5 985.85,379.5 986.29,454.4 986.70,328.9 987.18,399.3 987.63,439.9 988.07,479.9 988.69,284.1 989.40,470.8 989.85,433.4 990.29,496.6 990.74,491.8 991.18,366.1 991.63,365.9 992.07,400.3 992.51,345.6 993.28,299.5 993.94,328.9 994.29,459.8 994.74,368.6 995.18,453.7 995.63,485.6 996.07,340.7 996.51,384.0 996.96,374.1 997.40,413.9 997.85,364.1 998.28,323.2 998.74,420.9 999.18,498.5 999.63,413.4 1000.07,340.8 1000.51,373.2 1000.96,348.3 1001.48,242.1 1001.85,315.1 1002.29,490.9 1002.74,319.5 1003.18,458.1 1003.63,492.6 1004.07,400.2 1004.51,426.4 1004.96,441.5 1005.41,256.2 1005.85,489.0 1006.29,397.2 1006.74,433.8 1007.18,404.2 1007.62,413.8 1008.36,289.0 1008.96,337.5 1009.40,483.8 1009.85,503.0 1010.29,495.4 1010.74,421.6 1011.20,186.2 1011.64,171.0 1012.28,223.0 1012.96,487.4 1013.40,440.8 1013.85,478.4 1014.29,370.7 1014.92,265.1 1015.62,476.7 1016.07,320.9 1016.51,344.0 1016.96,444.1 1017.40,449.8 1017.85,353.7 1018.20,128.4 1018.73,497.0 1019.51,235.6 1020.07,417.2 1020.51,489.8 1021.15,89.0 1021.85,449.1 1022.29,384.1 1022.73,416.9 1023.18,492.6 1023.62,504.3 1024.07,446.8 1024.51,368.0 1024.96,416.0 1025.40,477.3 1025.77,389.7 1026.29,416.0 1026.73,471.5 1027.18,425.9 1027.62,481.6 1028.07,501.1 1028.51,457.0 1028.96,498.8 1029.40,453.6 1029.84,434.6 1030.29,423.9 1030.98,250.3 1031.62,438.2 1032.07,444.7 1032.51,430.7 1032.96,472.3 1033.40,466.4 1033.84,487.8 1034.46,433.1 1035.18,461.1 1035.62,493.9 1036.07,468.1 1036.51,484.4 1036.96,489.3 1037.35,428.8 1037.84,503.5 1038.29,486.4 1038.73,501.1 1039.18,448.8 1039.62,487.9 1040.07,496.6 1040.51,503.1 1040.95,477.1 1041.40,488.5 1041.84,502.8 1042.29,503.2 1042.73,484.4 1043.18,460.9 1043.62,465.8 1044.07,417.1 1044.59,391.2 1044.95,417.1 1045.40,420.4 1045.84,469.7 1046.29,456.2 1046.73,478.6 1047.18,472.1 1047.62,504.4 1048.35,382.5 1048.95,502.2 1049.40,466.2 1049.84,424.0 1050.29,467.2 1050.73,478.1 1051.18,433.6 1051.62,494.2 1052.07,506.3 1052.51,443.0 1052.95,450.4 1053.40,410.6 1053.84,466.8 1054.29,429.6 1054.72,407.1 1055.18,502.9 1055.62,440.7 1056.06,487.3 1056.51,499.7 1056.95,501.7 1057.40,477.3 1057.84,479.7 1058.29,441.6 1058.73,385.2 1059.18,475.1 1059.62,489.3 1060.06,444.8 1060.51,359.3 1060.95,472.5 1061.40,483.2 1061.84,466.6 1062.29,502.9 1062.73,444.0 1063.18,432.0 1063.62,409.8 1064.06,378.1 1064.51,476.5 1064.95,424.8 1065.43,369.5 1065.84,490.2 1066.29,400.2 1066.73,404.2 1067.17,371.4 1067.62,386.5 1068.06,366.6 1068.51,501.3 1069.19,347.8 1069.84,458.3 1070.29,405.1 1070.73,453.8 1071.17,443.9 1071.64,302.1 1072.08,301.4 1072.51,408.5 1072.95,494.6 1073.40,485.3 1073.84,402.7 1074.29,407.5 1074.73,465.6 1075.17,482.7 1075.62,374.0 1076.23,300.8 1076.43,300.6 1076.95,479.1 1077.40,505.1 1077.84,380.8 1078.28,498.4 1078.74,342.0 1079.17,482.2 1079.62,472.5 1080.06,429.2 1080.51,477.6 1080.95,461.5 1081.40,496.4 1081.84,460.2 1082.21,368.0 1082.73,492.1 1083.17,399.1 1083.62,476.6 1084.06,477.3 1084.51,413.8 1085.11,357.9 1085.84,469.1 1086.28,412.1 1086.73,395.5 1087.17,432.4 1087.62,487.9 1088.06,496.3 1088.58,305.8 1088.69,305.4 1089.39,367.1 1089.84,401.5 1090.28,464.2 1090.73,499.8 1091.17,379.7 1091.62,428.4 1092.06,447.1 1092.51,430.7 1093.21,366.0 1093.84,455.7 1094.28,463.5 1094.73,442.1 1095.17,410.2 1095.62,420.9 1096.06,479.5 1096.51,483.5 1096.95,443.1 1097.55,424.5 1098.28,506.5 1098.73,485.5 1099.17,481.9 1099.62,460.2 1100.06,456.1 1100.50,505.6 1100.95,481.9 1101.39,483.0 1101.84,503.5 1102.47,473.7 1103.17,481.5 1103.62,504.3 1104.06,489.8 1104.50,498.6 1104.95,482.2 1105.39,486.7 1105.84,490.9 1106.28,499.0 1106.73,490.2 1107.17,496.6 1107.62,471.8 1108.06,493.0 1108.50,493.3 1108.95,500.5 1109.71,466.4 1110.28,498.3 1110.73,467.9 1111.45,456.3 1112.06,503.2 1112.50,453.9 1112.95,458.0 1113.39,475.6 1113.84,461.8 1114.28,460.4 1114.92,432.6 1115.61,494.1 1116.06,503.7 1116.50,454.3 1116.95,474.7 1117.39,436.4 1117.84,496.8 1118.28,446.5 1118.68,428.8 1119.17,446.5 1119.61,446.5 1120.06,496.3 1120.50,498.8 1120.95,493.0 1121.58,441.2 1122.28,500.3 1122.73,503.6 1123.17,436.7 1123.61,478.7 1124.06,451.4 1124.47,421.6 1124.95,440.8 1125.39,419.9 1125.80,394.7 1126.40,362.0 1126.79,335.6 1127.36,357.9 1127.96,386.5 1128.23,389.7 1128.68,411.1 1129.39,475.0 1129.84,475.4 1130.28,445.4 1130.84,427.4 1131.61,499.0 1132.06,435.9 1132.50,448.7 1132.95,441.6 1133.39,449.9 1134.02,433.1 1134.72,492.8 1135.17,466.5 1135.61,441.0 1136.06,431.7 1136.50,492.7 1136.95,468.9 1137.39,501.0 1137.83,488.7 1138.28,433.6 1138.72,433.6 1139.23,412.3 1139.61,433.6 1140.06,433.6 1140.50,483.3 1141.26,418.1 1141.83,500.8 1142.28,467.8 1142.72,459.8 1143.17,450.8 1143.61,453.6 1144.06,503.8 1144.50,463.4 1144.95,456.2 1145.31,441.2 1145.83,456.2 1146.28,481.2 1146.72,456.9 1147.17,504.0 1147.61,463.3 1148.06,488.0 1148.50,479.2 1149.07,470.8 1149.83,479.2 1150.28,474.8 1150.72,478.6 1151.17,475.4 1151.61,507.3 1152.06,505.5 1152.55,473.7 1152.94,481.5 1153.39,481.9 1153.83,499.8 1154.28,506.5 1154.72,493.8 1155.17,493.1 1155.61,494.1 1156.06,485.5 1156.50,501.4 1156.94,470.0 1157.39,500.8 1157.76,439.8 1158.28,497.6 1158.72,465.1 1159.17,505.8 1159.61,502.6 1160.06,466.5 1160.50,499.3 1160.94,471.5 1161.39,506.8 1161.83,468.0 1162.28,503.0 1162.97,469.3 1163.61,478.1 1164.05,474.0 1164.50,477.9 1164.94,475.2 1165.39,475.8 1165.83,488.9 1166.28,506.6 1166.72,477.6 1167.17,496.4 1167.89,476.6 1168.50,506.8 1168.94,508.0 1169.39,500.2 1169.83,485.1 1170.28,474.0 1170.72,473.1 1171.17,472.1 1171.61,471.2 1172.05,482.1 1172.50,474.3 1173.10,464.4 1173.83,506.2 1174.28,470.4 1174.72,501.6 1175.16,474.7 1175.61,490.0 1175.99,465.0 1176.50,481.6 1176.94,489.4 1177.39,504.9 1177.83,499.8 1178.28,495.5 1178.89,455.4 1179.61,502.0 1180.05,490.0 1180.50,474.8 1180.94,462.3 1181.39,503.8 1181.83,506.6 1182.36,460.1 1182.72,499.7 1183.16,504.6 1183.61,506.4 1184.05,500.0 1184.50,501.0 1184.94,487.8 1185.39,475.5 1185.83,495.2 1186.27,504.5 1186.72,505.9 1187.16,498.3 1187.61,503.2 1188.05,488.1 1188.50,455.3 1188.94,468.9 1189.59,441.8 1190.27,505.5 1190.72,489.1 1191.16,494.1 1191.91,460.6 1192.50,498.9 1192.94,471.3 1193.39,481.4 1193.83,483.7 1194.27,463.4 1194.72,504.4 1195.09,450.5 1195.61,481.0 1196.05,483.1 1196.50,465.2 1196.94,468.3 1197.38,482.6 1197.83,482.6 1198.28,475.1 1198.72,505.7 1199.16,482.6 1199.61,496.8 1200.05,496.0 1200.50,504.3 1200.94,508.4 1201.46,465.0 1201.83,474.7 1202.27,474.7 1202.72,500.0 1203.16,493.2 1203.61,503.3 1204.05,480.2 1204.65,467.9 1205.38,477.0 1205.83,501.3 1206.27,475.3 1206.72,506.0 1207.16,486.0 1207.83,449.6 1208.49,486.6 1208.94,496.7 1209.38,498.2 1209.83,476.7 1210.27,491.5 1210.72,496.0 1211.16,505.4 1211.61,501.6 1212.05,466.1 1212.49,467.3 1212.94,496.0 1213.62,467.0 1214.27,502.3 1214.72,500.1 1215.16,476.1 1215.61,499.9 1216.05,471.8 1216.49,495.8 1216.94,472.4 1217.38,472.8 1217.83,502.7 1218.27,473.2 1218.72,497.4 1219.41,470.8 1220.05,488.1 1220.49,476.0 1220.94,498.3 1221.38,468.5 1221.83,498.2 1222.27,466.1 1222.72,507.7 1223.16,500.3 1223.60,504.6 1224.05,486.4 1224.62,455.4 1225.38,467.3 1225.83,477.2 1226.27,470.7 1226.72,486.2 1227.16,449.8 1227.60,478.5 1228.05,447.7 1228.49,444.6 1228.94,458.2 1229.54,434.6 1230.27,451.0 1230.72,439.1 1231.16,438.5 1231.60,496.9 1232.05,476.6 1232.72,430.2 1233.38,447.6 1233.83,462.3 1234.46,350.7 1235.16,503.3 1235.60,449.9 1236.05,449.9 1236.48,433.1 1236.94,484.5 1237.38,449.9 1237.83,495.3 1238.27,464.3 1238.71,439.8 1239.16,458.0 1239.60,502.3 1240.05,440.1 1240.49,440.2 1240.94,459.9 1241.69,434.6 1242.27,481.9 1242.71,501.2 1243.16,500.0 1243.60,506.4 1244.01,402.2 1244.49,489.9 1244.94,452.9 1245.38,462.2 1245.82,460.3 1246.27,458.9 1246.90,444.7 1247.60,504.8 1248.05,474.7 1248.49,500.8 1248.94,501.1 1249.38,504.0 1250.09,422.1 1250.71,491.3 1251.16,440.4 1251.60,490.7 1252.05,489.0 1252.69,437.5 1253.38,473.6 1253.82,460.2 1254.27,430.5 1254.71,506.0 1255.16,429.0 1255.60,465.1 1256.16,407.1 1256.93,429.6 1257.38,493.7 1257.82,467.2 1258.27,468.7 1258.71,454.4 1259.06,438.9 1259.60,454.4 1260.05,496.1 1260.49,452.8 1260.93,461.3 1261.38,467.4 1261.82,456.3 1262.24,409.4 1262.71,489.3 1263.16,453.8 1263.60,501.9 1264.05,472.3 1264.49,478.2 1264.85,456.3 1265.38,468.1 1265.82,467.9 1266.27,501.3 1266.71,495.6 1267.16,506.8 1267.60,473.1 1268.32,444.7 1268.93,485.8 1269.38,486.7 1269.82,504.9 1270.27,459.6 1270.71,499.5 1271.16,479.8 1271.51,462.1 1272.04,485.0 1272.49,497.8 1272.93,499.5 1273.38,489.0 1273.82,483.4 1274.27,483.7 1274.98,476.6 1275.60,505.9 1276.04,499.1 1276.49,496.9 1276.93,478.2 1277.38,492.1 1277.82,496.6 1278.27,503.7 1278.71,477.7 1279.16,503.5 1279.60,481.1 1280.04,466.8 1280.77,441.2 1281.38,490.2 1281.82,455.3 1282.27,505.4 1282.71,462.6 1283.15,483.3 1283.60,480.4 1284.24,472.2 1284.93,480.4 1285.38,505.4 1285.82,458.1 1286.27,453.2 1286.71,488.2 1287.15,473.2 1287.60,474.5 1288.00,427.9 1288.49,506.8 1288.93,494.5 1289.38,485.4 1289.82,444.8 1290.27,454.9 1290.71,483.5 1291.15,504.9 1291.60,465.7 1292.34,453.4 1292.93,465.7 1293.38,480.9 1293.82,494.5 1294.26,493.8 1294.71,474.7 1295.24,465.0 1295.60,483.6 1296.04,474.7 1296.49,476.5 1296.93,496.7 1297.38,473.1 1297.82,435.3 1298.26,433.6 1299.00,412.3 1299.60,447.7 1300.04,458.8 1300.49,484.5 1300.93,501.7 1301.38,456.2 1301.82,475.8 1302.47,466.4 1303.15,475.8 1303.60,498.5 1304.04,469.4 1304.49,469.3 1304.93,505.7 1305.37,492.4 1305.82,469.0 1306.26,468.9 1306.71,474.7 1307.15,503.3 1307.68,465.0 1308.04,498.7 1308.49,474.7 1308.93,465.9 1309.37,491.2 1309.82,464.1 1310.26,463.1 1310.71,496.5 1311.45,456.4 1312.04,493.9 1312.49,505.4 1312.93,501.1 1313.37,479.3 1313.82,506.0 1314.35,470.9 1314.71,501.9 1315.15,479.3 1315.60,501.5 1316.04,500.2 1316.48,492.5 1316.93,461.1 1317.37,448.8 1318.11,431.8 1318.71,448.8 1319.15,457.4 1319.60,482.2 1320.04,495.1 1320.48,434.1 1321.01,413.0 1321.37,434.1 1321.82,499.3 1322.26,478.1 1323.04,415.9 1323.60,436.4 1324.04,472.8 1324.48,426.2 1325.06,402.8 1325.82,470.4 1326.26,452.6 1326.71,484.8 1327.15,445.4 1327.60,445.4 1327.96,427.5 1328.48,498.4 1328.93,453.7 1329.37,475.9 1329.82,434.8 1330.26,503.5 1330.86,396.5 1331.59,421.3 1332.04,497.6 1332.48,466.9 1333.17,408.6 1333.82,430.8 1334.26,495.6 1334.71,475.9 1335.15,399.1 1335.49,368.1 1336.04,473.9 1336.48,399.1 1336.93,381.0 1337.52,344.9 1338.26,431.9 1338.97,410.1 1339.59,431.9 1340.04,396.1 1340.48,405.7 1340.90,321.1 1341.30,128.0 1341.80,243.4 1342.26,478.4 1342.70,445.4 1343.15,445.4 1343.60,427.5 1344.04,445.4 1344.48,450.8 1344.93,402.1 1345.63,371.8 1346.26,402.8 1346.70,482.2 1347.15,496.8 1347.66,427.5 1348.04,480.8 1348.48,461.1 1348.93,483.5 1349.37,494.3 1349.82,426.8 1350.26,480.6 1350.70,434.8 1351.43,413.8 1352.04,473.9 1352.48,420.4 1352.93,442.7 1353.37,440.1 1354.03,411.0 1354.70,479.7 1355.15,432.5 1355.59,456.7 1356.35,441.9 1356.93,456.7 1357.37,456.7 1357.80,441.9 1358.26,482.0 1358.70,456.7 1359.15,505.3 1359.59,502.0 1360.04,475.1 1360.48,479.5 1360.93,463.6 1361.37,497.4 1362.14,466.6 1362.70,496.3 1363.15,487.3 1363.59,473.8 1364.04,466.4 1364.48,502.5 1364.92,469.7 1365.37,491.7 1365.81,492.1 1366.26,499.7 1366.70,486.9 1367.07,456.4 1367.59,493.6 1368.04,485.0 1368.52,455.0 1368.92,466.9 1369.37,482.1 1369.81,493.9 1370.26,473.5 1370.70,502.8 1371.15,508.0 1371.59,492.9 1372.28,488.3 1372.92,496.0 1373.37,497.0 1373.81,498.1 1374.26,481.9 1374.70,499.0 1375.15,504.5 1375.59,502.8 1376.05,485.4 1376.48,494.1 1376.92,498.5 1377.37,477.2 1377.81,473.7 1378.26,491.0 1378.70,472.5 1379.24,458.7 1379.59,499.5 1380.03,489.1 1380.48,503.0 1380.92,501.1 1381.37,503.8 1381.81,502.9 1382.42,479.6 1383.15,505.9 1383.59,498.9 1384.03,482.8 1384.48,479.3 1384.92,491.1 1385.37,482.3 1385.90,474.7 1386.26,482.3 1386.70,482.3 1387.15,497.3 1387.59,502.6 1388.03,508.4 1388.48,484.2 1388.92,490.6 1389.66,485.4 1390.26,490.6 1390.70,508.4 1391.14,505.4 1391.59,507.7 1392.03,492.8 1392.48,497.3 1392.92,472.7 1393.37,505.8 1393.81,503.1 1394.26,471.9 1394.59,461.4 1395.14,501.3 1395.59,494.9 1396.03,506.5 1396.48,499.5 1396.92,481.6 1397.37,481.6 1397.78,473.8 1398.26,481.6 1398.70,481.6 1399.14,507.7 1399.59,478.8 1400.03,483.8 1400.48,502.0 1400.92,494.2 1401.54,457.9 1402.25,499.4 1402.70,504.5 1403.14,474.3 1403.59,486.1 1404.15,479.6 1404.92,495.8 1405.37,491.0 1405.81,487.9 1406.25,484.3 1406.70,476.6 1407.05,467.4 1407.59,476.6 1408.03,506.8 1408.48,503.5 1408.92,475.4 1409.37,503.0 1409.94,475.3 1410.70,484.2 1411.14,493.7 1411.59,480.7 1412.03,477.2 1412.48,477.1 1412.92,504.4 1413.36,504.7 1413.71,473.8 1414.25,505.6 1414.70,481.6 1415.14,478.8 1415.59,505.4 1416.03,508.1 1416.48,501.4 1417.18,479.6 1417.81,497.4 1418.25,490.4 1418.70,480.1 1419.14,479.6 1419.59,506.2 1420.03,488.4 1420.48,484.6 1420.92,481.6 1421.53,473.8 1422.25,497.4 1422.70,501.5 1423.14,501.0 1423.59,499.7 1424.03,499.7 1424.43,497.0 1424.92,499.7 1425.36,506.3 1425.81,507.2 1426.25,501.7 1426.70,494.4 1427.14,494.6 1427.59,494.7 1428.03,501.9 1428.77,499.9 1429.36,501.9 1429.81,495.6 1430.25,494.7 1430.70,493.0 1431.14,491.2 1431.59,508.1 1432.25,484.8 1432.92,506.2 1433.36,504.9 1433.81,506.9 1434.25,497.4 1434.70,508.4 1435.14,497.4 1435.59,504.9 1436.01,494.1 1436.47,497.4 1436.92,497.4 1437.36,503.3 1437.81,498.7 1438.25,499.7 1438.91,497.0 1439.58,508.4 1440.03,495.2 1440.47,499.6 1440.92,507.9 1441.36,499.4 1441.81,497.5 1442.25,504.6 1442.70,490.6 1443.26,485.4 1444.03,502.4 1444.47,501.1 1444.99,468.0 1445.36,483.9 1445.81,506.4 1446.15,408.6 1446.38,419.2 1446.92,353.8 1447.31,324.0 1447.88,386.5 1448.47,424.0 1448.48,423.3 1448.92,500.5 1449.36,500.0 1449.81,486.1 1450.21,479.6 1450.69,501.0 1451.14,487.3 1451.58,498.4 1452.03,507.6 1452.47,485.5 1452.92,505.1 1453.36,490.6 1453.97,485.4 1454.69,491.3 1455.14,505.3 1455.58,485.9 1456.03,501.7 1456.47,487.8 1456.92,489.1 1457.36,492.1 1457.74,481.9 1458.25,487.9 1458.69,501.0 1459.14,484.7 1459.58,495.6 1460.03,498.1 1460.47,485.6 1460.92,500.8 1461.36,489.5 1462.09,484.0 1462.69,489.5 1463.14,485.6 1463.58,498.4 1464.03,501.3 1464.47,485.2 1464.92,493.5 1465.36,498.5 1465.80,488.4 1466.43,482.5 1467.14,488.4 1467.58,486.3 1468.03,501.6 1468.47,481.5 1468.92,480.8 1469.36,480.1 1469.80,479.5 1470.25,507.7 1470.69,481.6 1471.14,481.6 1471.65,473.8 1472.03,505.7 1472.47,488.9 1472.91,501.4 1473.36,506.6 1473.80,473.3 1474.25,472.7 1474.69,480.9 1475.14,475.9 1475.58,479.5 1475.99,466.6 1476.47,506.2 1476.91,498.5 1477.36,487.8 1477.80,483.2 1478.25,497.1 1478.69,503.2 1479.14,494.8 1479.58,501.0 1480.03,471.4 1480.47,499.4 1480.92,460.8 1481.36,480.4 1481.80,498.2 1482.25,485.9 1482.69,480.7 1483.14,505.7 1483.58,463.5 1484.02,479.1 1484.39,450.6 1484.91,463.5 1485.36,503.1 1485.80,463.8 1486.25,482.6 1486.69,500.2 1487.29,466.6 1488.02,493.1 1488.47,496.5 1488.91,487.2 1489.36,487.9 1489.80,463.1 1490.25,502.3 1490.69,506.3 1491.14,456.2 1491.58,505.7 1492.02,470.3 1492.50,446.3 1492.91,460.1 1493.36,500.8 1493.80,450.1 1494.25,501.2 1494.69,499.6 1495.40,443.4 1496.02,470.2 1496.47,461.3 1496.91,503.8 1497.36,455.9 1497.80,486.0 1498.25,459.1 1498.69,506.3 1499.13,505.4 1499.75,460.8 1500.47,487.1 1500.91,461.2 1501.36,494.6 1501.80,507.3 1502.25,503.7 1502.64,451.5 1503.13,464.2 1503.58,464.2 1504.02,486.1 1504.47,500.2 1504.91,504.0 1505.36,499.4 1505.80,500.8 1506.25,483.9 1506.99,476.7 1507.58,483.9 1508.02,490.0 1508.47,505.9 1508.91,475.9 1509.36,475.1 1509.80,499.1 1510.24,473.5 1510.69,491.9 1511.13,476.5 1511.58,478.8 1511.91,467.1 1512.47,492.7 1512.91,506.1 1513.36,486.1 1513.80,493.5 1514.23,479.6" fill="none" stroke="#0072BD" stroke-width="1.15" stroke-linejoin="round"/>
</svg>
<div class="cap">
<span class="w" style="left:13px;top:612px">(a)</span>
<span class="w" style="left:104px;top:612px">Time-domain</span>
<span class="w" style="left:355px;top:612px">diagram</span>
<span class="w" style="left:520px;top:612px">of</span>
<span class="w" style="left:575px;top:612px">vibration</span>
<span class="w" style="left:755px;top:612px">signal</span>
<span class="w" style="left:899px;top:612px">(b)</span>
<span class="w" style="left:992px;top:612px">Frequency</span>
<span class="w" style="left:1193px;top:612px">spectrum</span>
<span class="w" style="left:1377px;top:612px">of</span>
<span class="w" style="left:1432px;top:612px">vibration</span>
<span class="w" style="left:13px;top:671px">signal</span>
</div>
</body>
</html>
